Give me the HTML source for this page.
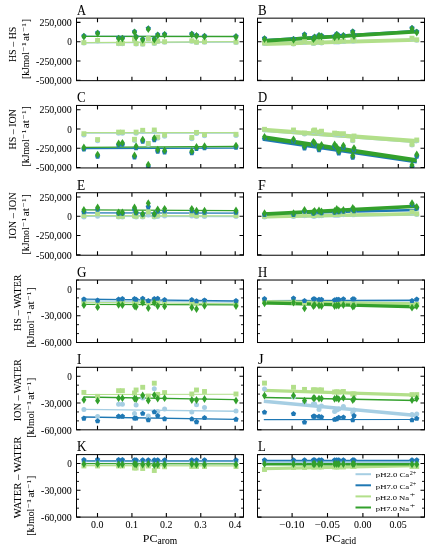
<!DOCTYPE html>
<html><head><meta charset="utf-8"><style>
html,body{margin:0;padding:0;background:#fff;}
text{stroke:#000;stroke-width:0.04px;fill:#000;}
svg{display:block;}
</style></head><body>
<svg width="431" height="550" viewBox="0 0 431 550">
<rect width="431" height="550" fill="#fff"/>
<clipPath id="cp00"><rect x="76.5" y="18.15" width="167" height="62.5"/></clipPath>
<g clip-path="url(#cp00)">
<line x1="83.9" y1="42.9" x2="236" y2="42" stroke="#a6cee3" stroke-width="1.3" stroke-linecap="butt"/>
<line x1="83.9" y1="36.4" x2="236" y2="36.5" stroke="#1f78b4" stroke-width="1.2" stroke-linecap="butt"/>
<line x1="83.9" y1="42.7" x2="236" y2="41.6" stroke="#b2df8a" stroke-width="1.3" stroke-linecap="butt"/>
<line x1="83.9" y1="36.4" x2="236" y2="36.5" stroke="#33a02c" stroke-width="1.3" stroke-linecap="butt"/>
<circle cx="83.9" cy="43.1" r="2.5" fill="#a6cee3"/>
<circle cx="97.6" cy="40.9" r="2.5" fill="#a6cee3"/>
<circle cx="118.6" cy="43.8" r="2.5" fill="#a6cee3"/>
<circle cx="122.4" cy="43.8" r="2.5" fill="#a6cee3"/>
<circle cx="134.5" cy="39.7" r="2.5" fill="#a6cee3"/>
<circle cx="136.1" cy="44.1" r="2.5" fill="#a6cee3"/>
<circle cx="142.7" cy="44.3" r="2.5" fill="#a6cee3"/>
<circle cx="148.3" cy="39.1" r="2.5" fill="#a6cee3"/>
<circle cx="154.3" cy="43.4" r="2.5" fill="#a6cee3"/>
<circle cx="157.7" cy="41.6" r="2.5" fill="#a6cee3"/>
<circle cx="164.6" cy="42.2" r="2.5" fill="#a6cee3"/>
<circle cx="191.8" cy="41.3" r="2.5" fill="#a6cee3"/>
<circle cx="196.5" cy="42.6" r="2.5" fill="#a6cee3"/>
<circle cx="204.5" cy="42.2" r="2.5" fill="#a6cee3"/>
<circle cx="236" cy="42.5" r="2.5" fill="#a6cee3"/>
<rect x="81.45" y="40.15" width="4.9" height="4.9" fill="#b2df8a"/>
<rect x="95.15" y="37.95" width="4.9" height="4.9" fill="#b2df8a"/>
<rect x="116.15" y="40.85" width="4.9" height="4.9" fill="#b2df8a"/>
<rect x="119.95" y="40.85" width="4.9" height="4.9" fill="#b2df8a"/>
<rect x="132.05" y="36.75" width="4.9" height="4.9" fill="#b2df8a"/>
<rect x="133.65" y="41.15" width="4.9" height="4.9" fill="#b2df8a"/>
<rect x="140.25" y="41.35" width="4.9" height="4.9" fill="#b2df8a"/>
<rect x="145.85" y="36.15" width="4.9" height="4.9" fill="#b2df8a"/>
<rect x="151.85" y="40.45" width="4.9" height="4.9" fill="#b2df8a"/>
<rect x="155.25" y="38.65" width="4.9" height="4.9" fill="#b2df8a"/>
<rect x="162.15" y="39.25" width="4.9" height="4.9" fill="#b2df8a"/>
<rect x="189.35" y="38.35" width="4.9" height="4.9" fill="#b2df8a"/>
<rect x="194.05" y="39.65" width="4.9" height="4.9" fill="#b2df8a"/>
<rect x="202.05" y="39.25" width="4.9" height="4.9" fill="#b2df8a"/>
<rect x="233.55" y="39.55" width="4.9" height="4.9" fill="#b2df8a"/>
<polygon points="83.9,33.1 86.56,35.03 85.55,38.17 82.25,38.17 81.24,35.03" fill="#1f78b4"/>
<polygon points="97.6,29.9 100.26,31.83 99.25,34.97 95.95,34.97 94.94,31.83" fill="#1f78b4"/>
<polygon points="118.6,35 121.26,36.93 120.25,40.07 116.95,40.07 115.94,36.93" fill="#1f78b4"/>
<polygon points="122.4,35 125.06,36.93 124.05,40.07 120.75,40.07 119.74,36.93" fill="#1f78b4"/>
<polygon points="134.5,28.7 137.16,30.63 136.15,33.77 132.85,33.77 131.84,30.63" fill="#1f78b4"/>
<polygon points="136.1,33.7 138.76,35.63 137.75,38.77 134.45,38.77 133.44,35.63" fill="#1f78b4"/>
<polygon points="142.7,36.2 145.36,38.13 144.35,41.27 141.05,41.27 140.04,38.13" fill="#1f78b4"/>
<polygon points="148.3,25.6 150.96,27.53 149.95,30.67 146.65,30.67 145.64,27.53" fill="#1f78b4"/>
<polygon points="154.3,36 156.96,37.93 155.95,41.07 152.65,41.07 151.64,37.93" fill="#1f78b4"/>
<polygon points="157.7,31.8 160.36,33.73 159.35,36.87 156.05,36.87 155.04,33.73" fill="#1f78b4"/>
<polygon points="164.6,31.2 167.26,33.13 166.25,36.27 162.95,36.27 161.94,33.13" fill="#1f78b4"/>
<polygon points="191.8,30.9 194.46,32.83 193.45,35.97 190.15,35.97 189.14,32.83" fill="#1f78b4"/>
<polygon points="196.5,32.4 199.16,34.33 198.15,37.47 194.85,37.47 193.84,34.33" fill="#1f78b4"/>
<polygon points="204.5,33.1 207.16,35.03 206.15,38.17 202.85,38.17 201.84,35.03" fill="#1f78b4"/>
<polygon points="236,33.4 238.66,35.33 237.65,38.47 234.35,38.47 233.34,35.33" fill="#1f78b4"/>
<polygon points="83.9,32.8 86.4,36.7 83.9,40.6 81.4,36.7" fill="#33a02c"/>
<polygon points="97.6,29.6 100.1,33.5 97.6,37.4 95.1,33.5" fill="#33a02c"/>
<polygon points="118.6,34.7 121.1,38.6 118.6,42.5 116.1,38.6" fill="#33a02c"/>
<polygon points="122.4,34.7 124.9,38.6 122.4,42.5 119.9,38.6" fill="#33a02c"/>
<polygon points="134.5,28.4 137,32.3 134.5,36.2 132,32.3" fill="#33a02c"/>
<polygon points="136.1,33.4 138.6,37.3 136.1,41.2 133.6,37.3" fill="#33a02c"/>
<polygon points="142.7,35.9 145.2,39.8 142.7,43.7 140.2,39.8" fill="#33a02c"/>
<polygon points="148.3,25.3 150.8,29.2 148.3,33.1 145.8,29.2" fill="#33a02c"/>
<polygon points="154.3,35.7 156.8,39.6 154.3,43.5 151.8,39.6" fill="#33a02c"/>
<polygon points="157.7,31.5 160.2,35.4 157.7,39.3 155.2,35.4" fill="#33a02c"/>
<polygon points="164.6,30.9 167.1,34.8 164.6,38.7 162.1,34.8" fill="#33a02c"/>
<polygon points="191.8,30.6 194.3,34.5 191.8,38.4 189.3,34.5" fill="#33a02c"/>
<polygon points="196.5,32.1 199,36 196.5,39.9 194,36" fill="#33a02c"/>
<polygon points="204.5,32.8 207,36.7 204.5,40.6 202,36.7" fill="#33a02c"/>
<polygon points="236,33.1 238.5,37 236,40.9 233.5,37" fill="#33a02c"/>
</g>
<path d="M97.5 80.65v-4M97.5 18.15v4M131.93 80.65v-4M131.93 18.15v4M166.35 80.65v-4M166.35 18.15v4M200.77 80.65v-4M200.77 18.15v4M235.2 80.65v-4M235.2 18.15v4M76.5 22.39h4M243.5 22.39h-4M76.5 41.68h4M243.5 41.68h-4M76.5 60.97h4M243.5 60.97h-4M76.5 80.26h4M243.5 80.26h-4" stroke="#000" stroke-width="1.1" fill="none"/>
<rect x="76.5" y="18.15" width="167" height="62.5" fill="none" stroke="#000" stroke-width="1.0"/>
<text x="76.9" y="14.95" font-size="14.8" font-family="'Liberation Serif', 'DejaVu Serif', serif" style="stroke-width:0.05px" textLength="9.0" lengthAdjust="spacingAndGlyphs">A</text>
<text x="39.42" y="26.09" font-size="9.8" font-family="'Liberation Serif', 'DejaVu Serif', serif" textLength="32.38" lengthAdjust="spacingAndGlyphs">250,000</text>
<text x="67.2" y="45.38" font-size="9.8" font-family="'Liberation Serif', 'DejaVu Serif', serif" textLength="4.6" lengthAdjust="spacingAndGlyphs">0</text>
<text x="36.09" y="64.67" font-size="9.8" font-family="'Liberation Serif', 'DejaVu Serif', serif" textLength="35.71" lengthAdjust="spacingAndGlyphs">-250,000</text>
<text x="36.09" y="83.96" font-size="9.8" font-family="'Liberation Serif', 'DejaVu Serif', serif" textLength="35.71" lengthAdjust="spacingAndGlyphs">-500,000</text>
<clipPath id="cp01"><rect x="257.5" y="18.15" width="167" height="62.5"/></clipPath>
<g clip-path="url(#cp01)">
<line x1="263.8" y1="44" x2="416.75" y2="39.6" stroke="#a6cee3" stroke-width="2.5" stroke-linecap="butt"/>
<line x1="263.8" y1="40.5" x2="416.75" y2="31.2" stroke="#1f78b4" stroke-width="2.8" stroke-linecap="butt"/>
<line x1="263.8" y1="44" x2="416.75" y2="39.8" stroke="#b2df8a" stroke-width="3.8" stroke-linecap="butt"/>
<line x1="263.8" y1="40.8" x2="416.75" y2="31.6" stroke="#33a02c" stroke-width="3.8" stroke-linecap="butt"/>
<circle cx="264.5" cy="43.5" r="2.5" fill="#a6cee3"/>
<circle cx="293.5" cy="44.1" r="2.5" fill="#a6cee3"/>
<circle cx="304.5" cy="42.2" r="2.5" fill="#a6cee3"/>
<circle cx="313.4" cy="43.5" r="2.5" fill="#a6cee3"/>
<circle cx="314.6" cy="43" r="2.5" fill="#a6cee3"/>
<circle cx="319" cy="42.5" r="2.5" fill="#a6cee3"/>
<circle cx="321.5" cy="43" r="2.5" fill="#a6cee3"/>
<circle cx="334.6" cy="42" r="2.5" fill="#a6cee3"/>
<circle cx="336.75" cy="42" r="2.5" fill="#a6cee3"/>
<circle cx="338.75" cy="42" r="2.5" fill="#a6cee3"/>
<circle cx="343.4" cy="41.5" r="2.5" fill="#a6cee3"/>
<circle cx="352.75" cy="41" r="2.5" fill="#a6cee3"/>
<circle cx="354" cy="41" r="2.5" fill="#a6cee3"/>
<circle cx="412" cy="38.7" r="2.5" fill="#a6cee3"/>
<circle cx="416.75" cy="40.3" r="2.5" fill="#a6cee3"/>
<rect x="262.05" y="40.55" width="4.9" height="4.9" fill="#b2df8a"/>
<rect x="291.05" y="41.15" width="4.9" height="4.9" fill="#b2df8a"/>
<rect x="302.05" y="39.25" width="4.9" height="4.9" fill="#b2df8a"/>
<rect x="310.95" y="40.55" width="4.9" height="4.9" fill="#b2df8a"/>
<rect x="312.15" y="40.05" width="4.9" height="4.9" fill="#b2df8a"/>
<rect x="316.55" y="39.55" width="4.9" height="4.9" fill="#b2df8a"/>
<rect x="319.05" y="40.05" width="4.9" height="4.9" fill="#b2df8a"/>
<rect x="332.15" y="39.05" width="4.9" height="4.9" fill="#b2df8a"/>
<rect x="334.3" y="39.05" width="4.9" height="4.9" fill="#b2df8a"/>
<rect x="336.3" y="39.05" width="4.9" height="4.9" fill="#b2df8a"/>
<rect x="340.95" y="38.55" width="4.9" height="4.9" fill="#b2df8a"/>
<rect x="350.3" y="38.05" width="4.9" height="4.9" fill="#b2df8a"/>
<rect x="351.55" y="38.05" width="4.9" height="4.9" fill="#b2df8a"/>
<rect x="409.55" y="35.75" width="4.9" height="4.9" fill="#b2df8a"/>
<rect x="414.3" y="37.35" width="4.9" height="4.9" fill="#b2df8a"/>
<polygon points="264.5,35.4 267.16,37.33 266.15,40.47 262.85,40.47 261.84,37.33" fill="#1f78b4"/>
<polygon points="293.5,36 296.16,37.93 295.15,41.07 291.85,41.07 290.84,37.93" fill="#1f78b4"/>
<polygon points="304.5,31.6 307.16,33.53 306.15,36.67 302.85,36.67 301.84,33.53" fill="#1f78b4"/>
<polygon points="313.4,35.4 316.06,37.33 315.05,40.47 311.75,40.47 310.74,37.33" fill="#1f78b4"/>
<polygon points="314.6,33.7 317.26,35.63 316.25,38.77 312.95,38.77 311.94,35.63" fill="#1f78b4"/>
<polygon points="319,32.2 321.66,34.13 320.65,37.27 317.35,37.27 316.34,34.13" fill="#1f78b4"/>
<polygon points="321.5,32.7 324.16,34.63 323.15,37.77 319.85,37.77 318.84,34.63" fill="#1f78b4"/>
<polygon points="334.6,33.5 337.26,35.43 336.25,38.57 332.95,38.57 331.94,35.43" fill="#1f78b4"/>
<polygon points="336.75,31 339.41,32.93 338.4,36.07 335.1,36.07 334.09,32.93" fill="#1f78b4"/>
<polygon points="338.75,32.7 341.41,34.63 340.4,37.77 337.1,37.77 336.09,34.63" fill="#1f78b4"/>
<polygon points="343.4,32.2 346.06,34.13 345.05,37.27 341.75,37.27 340.74,34.13" fill="#1f78b4"/>
<polygon points="352.75,28.5 355.41,30.43 354.4,33.57 351.1,33.57 350.09,30.43" fill="#1f78b4"/>
<polygon points="354,32.2 356.66,34.13 355.65,37.27 352.35,37.27 351.34,34.13" fill="#1f78b4"/>
<polygon points="412,25 414.66,26.93 413.65,30.07 410.35,30.07 409.34,26.93" fill="#1f78b4"/>
<polygon points="416.75,28.8 419.41,30.73 418.4,33.87 415.1,33.87 414.09,30.73" fill="#1f78b4"/>
<polygon points="264.5,35.3 267,39.2 264.5,43.1 262,39.2" fill="#33a02c"/>
<polygon points="293.5,35.9 296,39.8 293.5,43.7 291,39.8" fill="#33a02c"/>
<polygon points="304.5,31.5 307,35.4 304.5,39.3 302,35.4" fill="#33a02c"/>
<polygon points="313.4,35.3 315.9,39.2 313.4,43.1 310.9,39.2" fill="#33a02c"/>
<polygon points="314.6,33.6 317.1,37.5 314.6,41.4 312.1,37.5" fill="#33a02c"/>
<polygon points="319,32.1 321.5,36 319,39.9 316.5,36" fill="#33a02c"/>
<polygon points="321.5,32.6 324,36.5 321.5,40.4 319,36.5" fill="#33a02c"/>
<polygon points="334.6,33.4 337.1,37.3 334.6,41.2 332.1,37.3" fill="#33a02c"/>
<polygon points="336.75,30.9 339.25,34.8 336.75,38.7 334.25,34.8" fill="#33a02c"/>
<polygon points="338.75,32.6 341.25,36.5 338.75,40.4 336.25,36.5" fill="#33a02c"/>
<polygon points="343.4,32.1 345.9,36 343.4,39.9 340.9,36" fill="#33a02c"/>
<polygon points="352.75,28.4 355.25,32.3 352.75,36.2 350.25,32.3" fill="#33a02c"/>
<polygon points="354,32.1 356.5,36 354,39.9 351.5,36" fill="#33a02c"/>
<polygon points="412,24.9 414.5,28.8 412,32.7 409.5,28.8" fill="#33a02c"/>
<polygon points="416.75,28.7 419.25,32.6 416.75,36.5 414.25,32.6" fill="#33a02c"/>
</g>
<path d="M292.1 80.65v-4M292.1 18.15v4M327.5 80.65v-4M327.5 18.15v4M362.9 80.65v-4M362.9 18.15v4M398.3 80.65v-4M398.3 18.15v4M257.5 22.39h4M424.5 22.39h-4M257.5 41.68h4M424.5 41.68h-4M257.5 60.97h4M424.5 60.97h-4M257.5 80.26h4M424.5 80.26h-4" stroke="#000" stroke-width="1.1" fill="none"/>
<rect x="257.5" y="18.15" width="167" height="62.5" fill="none" stroke="#000" stroke-width="1.0"/>
<text x="258.1" y="14.95" font-size="14.8" font-family="'Liberation Serif', 'DejaVu Serif', serif" style="stroke-width:0.05px" textLength="8.6" lengthAdjust="spacingAndGlyphs">B</text>
<clipPath id="cp10"><rect x="76.5" y="105.44" width="167" height="62.5"/></clipPath>
<g clip-path="url(#cp10)">
<line x1="83.9" y1="133.2" x2="236" y2="133.2" stroke="#a6cee3" stroke-width="1.3" stroke-linecap="butt"/>
<line x1="83.9" y1="148.5" x2="236" y2="148.2" stroke="#1f78b4" stroke-width="1.3" stroke-linecap="butt"/>
<line x1="83.9" y1="132.7" x2="236" y2="132.7" stroke="#b2df8a" stroke-width="1.3" stroke-linecap="butt"/>
<line x1="83.9" y1="147.4" x2="236" y2="146.5" stroke="#33a02c" stroke-width="1.3" stroke-linecap="butt"/>
<circle cx="83.9" cy="134.9" r="2.5" fill="#a6cee3"/>
<circle cx="97.6" cy="140.8" r="2.5" fill="#a6cee3"/>
<circle cx="118.6" cy="133.3" r="2.5" fill="#a6cee3"/>
<circle cx="122.4" cy="133.3" r="2.5" fill="#a6cee3"/>
<circle cx="134.5" cy="140.5" r="2.5" fill="#a6cee3"/>
<circle cx="136.1" cy="133.3" r="2.5" fill="#a6cee3"/>
<circle cx="142.7" cy="131.5" r="2.5" fill="#a6cee3"/>
<circle cx="148.3" cy="144.6" r="2.5" fill="#a6cee3"/>
<circle cx="154.3" cy="131.2" r="2.5" fill="#a6cee3"/>
<circle cx="157.7" cy="138.3" r="2.5" fill="#a6cee3"/>
<circle cx="164.6" cy="136.2" r="2.5" fill="#a6cee3"/>
<circle cx="191.8" cy="138.7" r="2.5" fill="#a6cee3"/>
<circle cx="196.5" cy="133.6" r="2.5" fill="#a6cee3"/>
<circle cx="204.5" cy="135.8" r="2.5" fill="#a6cee3"/>
<circle cx="236" cy="135.5" r="2.5" fill="#a6cee3"/>
<rect x="81.45" y="131.25" width="4.9" height="4.9" fill="#b2df8a"/>
<rect x="95.15" y="137.15" width="4.9" height="4.9" fill="#b2df8a"/>
<rect x="116.15" y="129.65" width="4.9" height="4.9" fill="#b2df8a"/>
<rect x="119.95" y="129.65" width="4.9" height="4.9" fill="#b2df8a"/>
<rect x="132.05" y="136.85" width="4.9" height="4.9" fill="#b2df8a"/>
<rect x="133.65" y="129.65" width="4.9" height="4.9" fill="#b2df8a"/>
<rect x="140.25" y="127.85" width="4.9" height="4.9" fill="#b2df8a"/>
<rect x="145.85" y="140.95" width="4.9" height="4.9" fill="#b2df8a"/>
<rect x="151.85" y="127.55" width="4.9" height="4.9" fill="#b2df8a"/>
<rect x="155.25" y="134.65" width="4.9" height="4.9" fill="#b2df8a"/>
<rect x="162.15" y="132.55" width="4.9" height="4.9" fill="#b2df8a"/>
<rect x="189.35" y="135.05" width="4.9" height="4.9" fill="#b2df8a"/>
<rect x="194.05" y="129.95" width="4.9" height="4.9" fill="#b2df8a"/>
<rect x="202.05" y="132.15" width="4.9" height="4.9" fill="#b2df8a"/>
<rect x="233.55" y="131.85" width="4.9" height="4.9" fill="#b2df8a"/>
<polygon points="83.9,146.5 86.56,148.43 85.55,151.57 82.25,151.57 81.24,148.43" fill="#1f78b4"/>
<polygon points="97.6,153.6 100.26,155.53 99.25,158.67 95.95,158.67 94.94,155.53" fill="#1f78b4"/>
<polygon points="118.6,142.4 121.26,144.33 120.25,147.47 116.95,147.47 115.94,144.33" fill="#1f78b4"/>
<polygon points="122.4,141.8 125.06,143.73 124.05,146.87 120.75,146.87 119.74,143.73" fill="#1f78b4"/>
<polygon points="134.5,154.4 137.16,156.33 136.15,159.47 132.85,159.47 131.84,156.33" fill="#1f78b4"/>
<polygon points="136.1,145.2 138.76,147.13 137.75,150.27 134.45,150.27 133.44,147.13" fill="#1f78b4"/>
<polygon points="142.7,138.6 145.36,140.53 144.35,143.67 141.05,143.67 140.04,140.53" fill="#1f78b4"/>
<polygon points="148.3,163.7 150.96,165.63 149.95,168.77 146.65,168.77 145.64,165.63" fill="#1f78b4"/>
<polygon points="154.3,137.1 156.96,139.03 155.95,142.17 152.65,142.17 151.64,139.03" fill="#1f78b4"/>
<polygon points="157.7,148.6 160.36,150.53 159.35,153.67 156.05,153.67 155.04,150.53" fill="#1f78b4"/>
<polygon points="164.6,149.4 167.26,151.33 166.25,154.47 162.95,154.47 161.94,151.33" fill="#1f78b4"/>
<polygon points="191.8,150.2 194.46,152.13 193.45,155.27 190.15,155.27 189.14,152.13" fill="#1f78b4"/>
<polygon points="196.5,145.9 199.16,147.83 198.15,150.97 194.85,150.97 193.84,147.83" fill="#1f78b4"/>
<polygon points="204.5,145.2 207.16,147.13 206.15,150.27 202.85,150.27 201.84,147.13" fill="#1f78b4"/>
<polygon points="236,144.6 238.66,146.53 237.65,149.67 234.35,149.67 233.34,146.53" fill="#1f78b4"/>
<polygon points="83.9,143.6 86.4,147.5 83.9,151.4 81.4,147.5" fill="#33a02c"/>
<polygon points="97.6,150.7 100.1,154.6 97.6,158.5 95.1,154.6" fill="#33a02c"/>
<polygon points="118.6,139.5 121.1,143.4 118.6,147.3 116.1,143.4" fill="#33a02c"/>
<polygon points="122.4,138.9 124.9,142.8 122.4,146.7 119.9,142.8" fill="#33a02c"/>
<polygon points="134.5,151.5 137,155.4 134.5,159.3 132,155.4" fill="#33a02c"/>
<polygon points="136.1,142.3 138.6,146.2 136.1,150.1 133.6,146.2" fill="#33a02c"/>
<polygon points="142.7,135.7 145.2,139.6 142.7,143.5 140.2,139.6" fill="#33a02c"/>
<polygon points="148.3,160.8 150.8,164.7 148.3,168.6 145.8,164.7" fill="#33a02c"/>
<polygon points="154.3,134.2 156.8,138.1 154.3,142 151.8,138.1" fill="#33a02c"/>
<polygon points="157.7,145.7 160.2,149.6 157.7,153.5 155.2,149.6" fill="#33a02c"/>
<polygon points="164.6,146.5 167.1,150.4 164.6,154.3 162.1,150.4" fill="#33a02c"/>
<polygon points="191.8,147.3 194.3,151.2 191.8,155.1 189.3,151.2" fill="#33a02c"/>
<polygon points="196.5,143 199,146.9 196.5,150.8 194,146.9" fill="#33a02c"/>
<polygon points="204.5,142.3 207,146.2 204.5,150.1 202,146.2" fill="#33a02c"/>
<polygon points="236,141.7 238.5,145.6 236,149.5 233.5,145.6" fill="#33a02c"/>
</g>
<path d="M97.5 167.94v-4M97.5 105.44v4M131.93 167.94v-4M131.93 105.44v4M166.35 167.94v-4M166.35 105.44v4M200.77 167.94v-4M200.77 105.44v4M235.2 167.94v-4M235.2 105.44v4M76.5 109.68h4M243.5 109.68h-4M76.5 128.97h4M243.5 128.97h-4M76.5 148.26h4M243.5 148.26h-4M76.5 167.55h4M243.5 167.55h-4" stroke="#000" stroke-width="1.1" fill="none"/>
<rect x="76.5" y="105.44" width="167" height="62.5" fill="none" stroke="#000" stroke-width="1.0"/>
<text x="76.9" y="102.24" font-size="14.8" font-family="'Liberation Serif', 'DejaVu Serif', serif" style="stroke-width:0.05px" textLength="8.6" lengthAdjust="spacingAndGlyphs">C</text>
<text x="39.42" y="113.38" font-size="9.8" font-family="'Liberation Serif', 'DejaVu Serif', serif" textLength="32.38" lengthAdjust="spacingAndGlyphs">250,000</text>
<text x="67.2" y="132.67" font-size="9.8" font-family="'Liberation Serif', 'DejaVu Serif', serif" textLength="4.6" lengthAdjust="spacingAndGlyphs">0</text>
<text x="36.09" y="151.96" font-size="9.8" font-family="'Liberation Serif', 'DejaVu Serif', serif" textLength="35.71" lengthAdjust="spacingAndGlyphs">-250,000</text>
<text x="36.09" y="171.25" font-size="9.8" font-family="'Liberation Serif', 'DejaVu Serif', serif" textLength="35.71" lengthAdjust="spacingAndGlyphs">-500,000</text>
<clipPath id="cp11"><rect x="257.5" y="105.44" width="167" height="62.5"/></clipPath>
<g clip-path="url(#cp11)">
<line x1="263.8" y1="130.4" x2="416.75" y2="141.6" stroke="#a6cee3" stroke-width="3.4" stroke-linecap="butt"/>
<line x1="263.8" y1="139.6" x2="416.75" y2="162.2" stroke="#1f78b4" stroke-width="2.8" stroke-linecap="butt"/>
<line x1="263.8" y1="129.9" x2="416.75" y2="141.1" stroke="#b2df8a" stroke-width="4.2" stroke-linecap="butt"/>
<line x1="263.8" y1="137.3" x2="416.75" y2="160.3" stroke="#33a02c" stroke-width="4.2" stroke-linecap="butt"/>
<circle cx="264.5" cy="130.1" r="2.5" fill="#a6cee3"/>
<circle cx="293.5" cy="130.8" r="2.5" fill="#a6cee3"/>
<circle cx="304.5" cy="133.9" r="2.5" fill="#a6cee3"/>
<circle cx="313.4" cy="131.6" r="2.5" fill="#a6cee3"/>
<circle cx="314.6" cy="130.8" r="2.5" fill="#a6cee3"/>
<circle cx="319" cy="132.9" r="2.5" fill="#a6cee3"/>
<circle cx="321.5" cy="132" r="2.5" fill="#a6cee3"/>
<circle cx="334.6" cy="133.9" r="2.5" fill="#a6cee3"/>
<circle cx="336.75" cy="134.3" r="2.5" fill="#a6cee3"/>
<circle cx="338.75" cy="134.5" r="2.5" fill="#a6cee3"/>
<circle cx="343.4" cy="134.5" r="2.5" fill="#a6cee3"/>
<circle cx="352.75" cy="140.8" r="2.5" fill="#a6cee3"/>
<circle cx="354" cy="136.8" r="2.5" fill="#a6cee3"/>
<circle cx="412" cy="145.1" r="2.5" fill="#a6cee3"/>
<circle cx="416.75" cy="140.8" r="2.5" fill="#a6cee3"/>
<rect x="262.05" y="126.85" width="4.9" height="4.9" fill="#b2df8a"/>
<rect x="291.05" y="127.55" width="4.9" height="4.9" fill="#b2df8a"/>
<rect x="302.05" y="130.65" width="4.9" height="4.9" fill="#b2df8a"/>
<rect x="310.95" y="128.35" width="4.9" height="4.9" fill="#b2df8a"/>
<rect x="312.15" y="127.55" width="4.9" height="4.9" fill="#b2df8a"/>
<rect x="316.55" y="129.65" width="4.9" height="4.9" fill="#b2df8a"/>
<rect x="319.05" y="128.75" width="4.9" height="4.9" fill="#b2df8a"/>
<rect x="332.15" y="130.65" width="4.9" height="4.9" fill="#b2df8a"/>
<rect x="334.3" y="131.05" width="4.9" height="4.9" fill="#b2df8a"/>
<rect x="336.3" y="131.25" width="4.9" height="4.9" fill="#b2df8a"/>
<rect x="340.95" y="131.25" width="4.9" height="4.9" fill="#b2df8a"/>
<rect x="350.3" y="137.55" width="4.9" height="4.9" fill="#b2df8a"/>
<rect x="351.55" y="133.55" width="4.9" height="4.9" fill="#b2df8a"/>
<rect x="409.55" y="141.85" width="4.9" height="4.9" fill="#b2df8a"/>
<rect x="414.3" y="137.55" width="4.9" height="4.9" fill="#b2df8a"/>
<polygon points="264.5,136 267.16,137.93 266.15,141.07 262.85,141.07 261.84,137.93" fill="#1f78b4"/>
<polygon points="293.5,138.5 296.16,140.43 295.15,143.57 291.85,143.57 290.84,140.43" fill="#1f78b4"/>
<polygon points="304.5,145.4 307.16,147.33 306.15,150.47 302.85,150.47 301.84,147.33" fill="#1f78b4"/>
<polygon points="313.4,141 316.06,142.93 315.05,146.07 311.75,146.07 310.74,142.93" fill="#1f78b4"/>
<polygon points="314.6,142.2 317.26,144.13 316.25,147.27 312.95,147.27 311.94,144.13" fill="#1f78b4"/>
<polygon points="319,147.3 321.66,149.23 320.65,152.37 317.35,152.37 316.34,149.23" fill="#1f78b4"/>
<polygon points="321.5,144.2 324.16,146.13 323.15,149.27 319.85,149.27 318.84,146.13" fill="#1f78b4"/>
<polygon points="334.6,143.6 337.26,145.53 336.25,148.67 332.95,148.67 331.94,145.53" fill="#1f78b4"/>
<polygon points="336.75,146.2 339.41,148.13 338.4,151.27 335.1,151.27 334.09,148.13" fill="#1f78b4"/>
<polygon points="338.75,150.4 341.41,152.33 340.4,155.47 337.1,155.47 336.09,152.33" fill="#1f78b4"/>
<polygon points="343.4,144.8 346.06,146.73 345.05,149.87 341.75,149.87 340.74,146.73" fill="#1f78b4"/>
<polygon points="352.75,154.8 355.41,156.73 354.4,159.87 351.1,159.87 350.09,156.73" fill="#1f78b4"/>
<polygon points="354,147.3 356.66,149.23 355.65,152.37 352.35,152.37 351.34,149.23" fill="#1f78b4"/>
<polygon points="412,164.2 414.66,166.13 413.65,169.27 410.35,169.27 409.34,166.13" fill="#1f78b4"/>
<polygon points="416.75,153.6 419.41,155.53 418.4,158.67 415.1,158.67 414.09,155.53" fill="#1f78b4"/>
<polygon points="264.5,132.9 267,136.8 264.5,140.7 262,136.8" fill="#33a02c"/>
<polygon points="293.5,135.4 296,139.3 293.5,143.2 291,139.3" fill="#33a02c"/>
<polygon points="304.5,142.3 307,146.2 304.5,150.1 302,146.2" fill="#33a02c"/>
<polygon points="313.4,137.9 315.9,141.8 313.4,145.7 310.9,141.8" fill="#33a02c"/>
<polygon points="314.6,139.1 317.1,143 314.6,146.9 312.1,143" fill="#33a02c"/>
<polygon points="319,144.2 321.5,148.1 319,152 316.5,148.1" fill="#33a02c"/>
<polygon points="321.5,141.1 324,145 321.5,148.9 319,145" fill="#33a02c"/>
<polygon points="334.6,140.5 337.1,144.4 334.6,148.3 332.1,144.4" fill="#33a02c"/>
<polygon points="336.75,143.1 339.25,147 336.75,150.9 334.25,147" fill="#33a02c"/>
<polygon points="338.75,147.3 341.25,151.2 338.75,155.1 336.25,151.2" fill="#33a02c"/>
<polygon points="343.4,141.7 345.9,145.6 343.4,149.5 340.9,145.6" fill="#33a02c"/>
<polygon points="352.75,151.7 355.25,155.6 352.75,159.5 350.25,155.6" fill="#33a02c"/>
<polygon points="354,144.2 356.5,148.1 354,152 351.5,148.1" fill="#33a02c"/>
<polygon points="412,161.1 414.5,165 412,168.9 409.5,165" fill="#33a02c"/>
<polygon points="416.75,150.5 419.25,154.4 416.75,158.3 414.25,154.4" fill="#33a02c"/>
</g>
<path d="M292.1 167.94v-4M292.1 105.44v4M327.5 167.94v-4M327.5 105.44v4M362.9 167.94v-4M362.9 105.44v4M398.3 167.94v-4M398.3 105.44v4M257.5 109.68h4M424.5 109.68h-4M257.5 128.97h4M424.5 128.97h-4M257.5 148.26h4M424.5 148.26h-4M257.5 167.55h4M424.5 167.55h-4" stroke="#000" stroke-width="1.1" fill="none"/>
<rect x="257.5" y="105.44" width="167" height="62.5" fill="none" stroke="#000" stroke-width="1.0"/>
<text x="258.1" y="102.24" font-size="14.8" font-family="'Liberation Serif', 'DejaVu Serif', serif" style="stroke-width:0.05px" textLength="9.2" lengthAdjust="spacingAndGlyphs">D</text>
<clipPath id="cp20"><rect x="76.5" y="192.73" width="167" height="62.5"/></clipPath>
<g clip-path="url(#cp20)">
<line x1="83.9" y1="216.3" x2="236" y2="216.5" stroke="#a6cee3" stroke-width="1.3" stroke-linecap="butt"/>
<line x1="83.9" y1="212.8" x2="236" y2="213.2" stroke="#1f78b4" stroke-width="1.3" stroke-linecap="butt"/>
<line x1="83.9" y1="215.7" x2="236" y2="215.9" stroke="#b2df8a" stroke-width="1.3" stroke-linecap="butt"/>
<line x1="83.9" y1="209.8" x2="236" y2="210.7" stroke="#33a02c" stroke-width="1.3" stroke-linecap="butt"/>
<circle cx="83.9" cy="217" r="2.5" fill="#a6cee3"/>
<circle cx="97.6" cy="216.3" r="2.5" fill="#a6cee3"/>
<circle cx="118.6" cy="217" r="2.5" fill="#a6cee3"/>
<circle cx="122.4" cy="217" r="2.5" fill="#a6cee3"/>
<circle cx="134.5" cy="216.5" r="2.5" fill="#a6cee3"/>
<circle cx="136.1" cy="217" r="2.5" fill="#a6cee3"/>
<circle cx="142.7" cy="217" r="2.5" fill="#a6cee3"/>
<circle cx="148.3" cy="215" r="2.5" fill="#a6cee3"/>
<circle cx="154.3" cy="217" r="2.5" fill="#a6cee3"/>
<circle cx="157.7" cy="216.5" r="2.5" fill="#a6cee3"/>
<circle cx="164.6" cy="216" r="2.5" fill="#a6cee3"/>
<circle cx="191.8" cy="216" r="2.5" fill="#a6cee3"/>
<circle cx="196.5" cy="216.5" r="2.5" fill="#a6cee3"/>
<circle cx="204.5" cy="216.5" r="2.5" fill="#a6cee3"/>
<circle cx="236" cy="216.5" r="2.5" fill="#a6cee3"/>
<rect x="81.45" y="213.25" width="4.9" height="4.9" fill="#b2df8a"/>
<rect x="95.15" y="211.35" width="4.9" height="4.9" fill="#b2df8a"/>
<rect x="116.15" y="213.85" width="4.9" height="4.9" fill="#b2df8a"/>
<rect x="119.95" y="213.85" width="4.9" height="4.9" fill="#b2df8a"/>
<rect x="132.05" y="213.25" width="4.9" height="4.9" fill="#b2df8a"/>
<rect x="133.65" y="213.85" width="4.9" height="4.9" fill="#b2df8a"/>
<rect x="140.25" y="213.85" width="4.9" height="4.9" fill="#b2df8a"/>
<rect x="145.85" y="209.45" width="4.9" height="4.9" fill="#b2df8a"/>
<rect x="151.85" y="213.85" width="4.9" height="4.9" fill="#b2df8a"/>
<rect x="155.25" y="212.55" width="4.9" height="4.9" fill="#b2df8a"/>
<rect x="162.15" y="211.95" width="4.9" height="4.9" fill="#b2df8a"/>
<rect x="189.35" y="211.95" width="4.9" height="4.9" fill="#b2df8a"/>
<rect x="194.05" y="213.25" width="4.9" height="4.9" fill="#b2df8a"/>
<rect x="202.05" y="212.55" width="4.9" height="4.9" fill="#b2df8a"/>
<rect x="233.55" y="213.05" width="4.9" height="4.9" fill="#b2df8a"/>
<polygon points="83.9,209.2 86.56,211.13 85.55,214.27 82.25,214.27 81.24,211.13" fill="#1f78b4"/>
<polygon points="97.6,206.7 100.26,208.63 99.25,211.77 95.95,211.77 94.94,208.63" fill="#1f78b4"/>
<polygon points="118.6,210.7 121.26,212.63 120.25,215.77 116.95,215.77 115.94,212.63" fill="#1f78b4"/>
<polygon points="122.4,210.7 125.06,212.63 124.05,215.77 120.75,215.77 119.74,212.63" fill="#1f78b4"/>
<polygon points="134.5,206.7 137.16,208.63 136.15,211.77 132.85,211.77 131.84,208.63" fill="#1f78b4"/>
<polygon points="136.1,210.2 138.76,212.13 137.75,215.27 134.45,215.27 133.44,212.13" fill="#1f78b4"/>
<polygon points="142.7,211.7 145.36,213.63 144.35,216.77 141.05,216.77 140.04,213.63" fill="#1f78b4"/>
<polygon points="148.3,204.1 150.96,206.03 149.95,209.17 146.65,209.17 145.64,206.03" fill="#1f78b4"/>
<polygon points="154.3,211.7 156.96,213.63 155.95,216.77 152.65,216.77 151.64,213.63" fill="#1f78b4"/>
<polygon points="157.7,208.7 160.36,210.63 159.35,213.77 156.05,213.77 155.04,210.63" fill="#1f78b4"/>
<polygon points="164.6,208.5 167.26,210.43 166.25,213.57 162.95,213.57 161.94,210.43" fill="#1f78b4"/>
<polygon points="191.8,208.2 194.46,210.13 193.45,213.27 190.15,213.27 189.14,210.13" fill="#1f78b4"/>
<polygon points="196.5,209.7 199.16,211.63 198.15,214.77 194.85,214.77 193.84,211.63" fill="#1f78b4"/>
<polygon points="204.5,209.7 207.16,211.63 206.15,214.77 202.85,214.77 201.84,211.63" fill="#1f78b4"/>
<polygon points="236,209.7 238.66,211.63 237.65,214.77 234.35,214.77 233.34,211.63" fill="#1f78b4"/>
<polygon points="83.9,206.1 86.4,210 83.9,213.9 81.4,210" fill="#33a02c"/>
<polygon points="97.6,203.6 100.1,207.5 97.6,211.4 95.1,207.5" fill="#33a02c"/>
<polygon points="118.6,208.4 121.1,212.3 118.6,216.2 116.1,212.3" fill="#33a02c"/>
<polygon points="122.4,208.4 124.9,212.3 122.4,216.2 119.9,212.3" fill="#33a02c"/>
<polygon points="134.5,203.6 137,207.5 134.5,211.4 132,207.5" fill="#33a02c"/>
<polygon points="136.1,208 138.6,211.9 136.1,215.8 133.6,211.9" fill="#33a02c"/>
<polygon points="142.7,209.9 145.2,213.8 142.7,217.7 140.2,213.8" fill="#33a02c"/>
<polygon points="148.3,199.3 150.8,203.2 148.3,207.1 145.8,203.2" fill="#33a02c"/>
<polygon points="154.3,209.9 156.8,213.8 154.3,217.7 151.8,213.8" fill="#33a02c"/>
<polygon points="157.7,205.5 160.2,209.4 157.7,213.3 155.2,209.4" fill="#33a02c"/>
<polygon points="164.6,204.9 167.1,208.8 164.6,212.7 162.1,208.8" fill="#33a02c"/>
<polygon points="191.8,204.9 194.3,208.8 191.8,212.7 189.3,208.8" fill="#33a02c"/>
<polygon points="196.5,206.8 199,210.7 196.5,214.6 194,210.7" fill="#33a02c"/>
<polygon points="204.5,206.8 207,210.7 204.5,214.6 202,210.7" fill="#33a02c"/>
<polygon points="236,206.6 238.5,210.5 236,214.4 233.5,210.5" fill="#33a02c"/>
</g>
<path d="M97.5 255.23v-4M97.5 192.73v4M131.93 255.23v-4M131.93 192.73v4M166.35 255.23v-4M166.35 192.73v4M200.77 255.23v-4M200.77 192.73v4M235.2 255.23v-4M235.2 192.73v4M76.5 196.97h4M243.5 196.97h-4M76.5 216.26h4M243.5 216.26h-4M76.5 235.55h4M243.5 235.55h-4M76.5 254.84h4M243.5 254.84h-4" stroke="#000" stroke-width="1.1" fill="none"/>
<rect x="76.5" y="192.73" width="167" height="62.5" fill="none" stroke="#000" stroke-width="1.0"/>
<text x="76.9" y="189.53" font-size="14.8" font-family="'Liberation Serif', 'DejaVu Serif', serif" style="stroke-width:0.05px" textLength="8.2" lengthAdjust="spacingAndGlyphs">E</text>
<text x="39.42" y="200.67" font-size="9.8" font-family="'Liberation Serif', 'DejaVu Serif', serif" textLength="32.38" lengthAdjust="spacingAndGlyphs">250,000</text>
<text x="67.2" y="219.96" font-size="9.8" font-family="'Liberation Serif', 'DejaVu Serif', serif" textLength="4.6" lengthAdjust="spacingAndGlyphs">0</text>
<text x="36.09" y="239.25" font-size="9.8" font-family="'Liberation Serif', 'DejaVu Serif', serif" textLength="35.71" lengthAdjust="spacingAndGlyphs">-250,000</text>
<text x="36.09" y="258.54" font-size="9.8" font-family="'Liberation Serif', 'DejaVu Serif', serif" textLength="35.71" lengthAdjust="spacingAndGlyphs">-500,000</text>
<clipPath id="cp21"><rect x="257.5" y="192.73" width="167" height="62.5"/></clipPath>
<g clip-path="url(#cp21)">
<line x1="263.8" y1="216.9" x2="416.75" y2="214.6" stroke="#a6cee3" stroke-width="2.5" stroke-linecap="butt"/>
<line x1="263.8" y1="213.8" x2="416.75" y2="210" stroke="#1f78b4" stroke-width="2.5" stroke-linecap="butt"/>
<line x1="263.8" y1="216.8" x2="416.75" y2="213.8" stroke="#b2df8a" stroke-width="3.4" stroke-linecap="butt"/>
<line x1="263.8" y1="214.1" x2="416.75" y2="206.3" stroke="#33a02c" stroke-width="3.6" stroke-linecap="butt"/>
<circle cx="264.5" cy="217.1" r="2.5" fill="#a6cee3"/>
<circle cx="293.5" cy="216.5" r="2.5" fill="#a6cee3"/>
<circle cx="304.5" cy="215.8" r="2.5" fill="#a6cee3"/>
<circle cx="313.4" cy="216.3" r="2.5" fill="#a6cee3"/>
<circle cx="314.6" cy="216.3" r="2.5" fill="#a6cee3"/>
<circle cx="319" cy="215.8" r="2.5" fill="#a6cee3"/>
<circle cx="321.5" cy="215.8" r="2.5" fill="#a6cee3"/>
<circle cx="334.6" cy="215.3" r="2.5" fill="#a6cee3"/>
<circle cx="336.75" cy="215.3" r="2.5" fill="#a6cee3"/>
<circle cx="338.75" cy="215.3" r="2.5" fill="#a6cee3"/>
<circle cx="343.4" cy="214.8" r="2.5" fill="#a6cee3"/>
<circle cx="352.75" cy="214.8" r="2.5" fill="#a6cee3"/>
<circle cx="354" cy="214.8" r="2.5" fill="#a6cee3"/>
<circle cx="412" cy="212.8" r="2.5" fill="#a6cee3"/>
<circle cx="416.75" cy="214.6" r="2.5" fill="#a6cee3"/>
<rect x="262.05" y="213.85" width="4.9" height="4.9" fill="#b2df8a"/>
<rect x="291.05" y="213.25" width="4.9" height="4.9" fill="#b2df8a"/>
<rect x="302.05" y="212.55" width="4.9" height="4.9" fill="#b2df8a"/>
<rect x="310.95" y="213.05" width="4.9" height="4.9" fill="#b2df8a"/>
<rect x="312.15" y="213.05" width="4.9" height="4.9" fill="#b2df8a"/>
<rect x="316.55" y="212.55" width="4.9" height="4.9" fill="#b2df8a"/>
<rect x="319.05" y="212.55" width="4.9" height="4.9" fill="#b2df8a"/>
<rect x="332.15" y="212.05" width="4.9" height="4.9" fill="#b2df8a"/>
<rect x="334.3" y="212.05" width="4.9" height="4.9" fill="#b2df8a"/>
<rect x="336.3" y="212.05" width="4.9" height="4.9" fill="#b2df8a"/>
<rect x="340.95" y="211.55" width="4.9" height="4.9" fill="#b2df8a"/>
<rect x="350.3" y="211.55" width="4.9" height="4.9" fill="#b2df8a"/>
<rect x="351.55" y="211.55" width="4.9" height="4.9" fill="#b2df8a"/>
<rect x="409.55" y="209.55" width="4.9" height="4.9" fill="#b2df8a"/>
<rect x="414.3" y="211.35" width="4.9" height="4.9" fill="#b2df8a"/>
<polygon points="264.5,211.9 267.16,213.83 266.15,216.97 262.85,216.97 261.84,213.83" fill="#1f78b4"/>
<polygon points="293.5,211.9 296.16,213.83 295.15,216.97 291.85,216.97 290.84,213.83" fill="#1f78b4"/>
<polygon points="304.5,208.7 307.16,210.63 306.15,213.77 302.85,213.77 301.84,210.63" fill="#1f78b4"/>
<polygon points="313.4,210.7 316.06,212.63 315.05,215.77 311.75,215.77 310.74,212.63" fill="#1f78b4"/>
<polygon points="314.6,209.7 317.26,211.63 316.25,214.77 312.95,214.77 311.94,211.63" fill="#1f78b4"/>
<polygon points="319,209.2 321.66,211.13 320.65,214.27 317.35,214.27 316.34,211.13" fill="#1f78b4"/>
<polygon points="321.5,210.2 324.16,212.13 323.15,215.27 319.85,215.27 318.84,212.13" fill="#1f78b4"/>
<polygon points="334.6,209.7 337.26,211.63 336.25,214.77 332.95,214.77 331.94,211.63" fill="#1f78b4"/>
<polygon points="336.75,207.7 339.41,209.63 338.4,212.77 335.1,212.77 334.09,209.63" fill="#1f78b4"/>
<polygon points="338.75,209.2 341.41,211.13 340.4,214.27 337.1,214.27 336.09,211.13" fill="#1f78b4"/>
<polygon points="343.4,208.7 346.06,210.63 345.05,213.77 341.75,213.77 340.74,210.63" fill="#1f78b4"/>
<polygon points="352.75,206.7 355.41,208.63 354.4,211.77 351.1,211.77 350.09,208.63" fill="#1f78b4"/>
<polygon points="354,208.2 356.66,210.13 355.65,213.27 352.35,213.27 351.34,210.13" fill="#1f78b4"/>
<polygon points="412,201.9 414.66,203.83 413.65,206.97 410.35,206.97 409.34,203.83" fill="#1f78b4"/>
<polygon points="416.75,205.6 419.41,207.53 418.4,210.67 415.1,210.67 414.09,207.53" fill="#1f78b4"/>
<polygon points="264.5,209.3 267,213.2 264.5,217.1 262,213.2" fill="#33a02c"/>
<polygon points="293.5,209.3 296,213.2 293.5,217.1 291,213.2" fill="#33a02c"/>
<polygon points="304.5,206.1 307,210 304.5,213.9 302,210" fill="#33a02c"/>
<polygon points="313.4,208.1 315.9,212 313.4,215.9 310.9,212" fill="#33a02c"/>
<polygon points="314.6,207.1 317.1,211 314.6,214.9 312.1,211" fill="#33a02c"/>
<polygon points="319,206.6 321.5,210.5 319,214.4 316.5,210.5" fill="#33a02c"/>
<polygon points="321.5,207.6 324,211.5 321.5,215.4 319,211.5" fill="#33a02c"/>
<polygon points="334.6,207.1 337.1,211 334.6,214.9 332.1,211" fill="#33a02c"/>
<polygon points="336.75,205.1 339.25,209 336.75,212.9 334.25,209" fill="#33a02c"/>
<polygon points="338.75,206.6 341.25,210.5 338.75,214.4 336.25,210.5" fill="#33a02c"/>
<polygon points="343.4,206.1 345.9,210 343.4,213.9 340.9,210" fill="#33a02c"/>
<polygon points="352.75,204.1 355.25,208 352.75,211.9 350.25,208" fill="#33a02c"/>
<polygon points="354,205.6 356.5,209.5 354,213.4 351.5,209.5" fill="#33a02c"/>
<polygon points="412,199.3 414.5,203.2 412,207.1 409.5,203.2" fill="#33a02c"/>
<polygon points="416.75,203 419.25,206.9 416.75,210.8 414.25,206.9" fill="#33a02c"/>
</g>
<path d="M292.1 255.23v-4M292.1 192.73v4M327.5 255.23v-4M327.5 192.73v4M362.9 255.23v-4M362.9 192.73v4M398.3 255.23v-4M398.3 192.73v4M257.5 196.97h4M424.5 196.97h-4M257.5 216.26h4M424.5 216.26h-4M257.5 235.55h4M424.5 235.55h-4M257.5 254.84h4M424.5 254.84h-4" stroke="#000" stroke-width="1.1" fill="none"/>
<rect x="257.5" y="192.73" width="167" height="62.5" fill="none" stroke="#000" stroke-width="1.0"/>
<text x="258.1" y="189.53" font-size="14.8" font-family="'Liberation Serif', 'DejaVu Serif', serif" style="stroke-width:0.05px" textLength="7.8" lengthAdjust="spacingAndGlyphs">F</text>
<clipPath id="cp30"><rect x="76.5" y="280.02" width="167" height="62.5"/></clipPath>
<g clip-path="url(#cp30)">
<line x1="83.9" y1="300.8" x2="236" y2="302.2" stroke="#a6cee3" stroke-width="1.2" stroke-linecap="butt"/>
<line x1="83.9" y1="299.2" x2="236" y2="301" stroke="#1f78b4" stroke-width="1.3" stroke-linecap="butt"/>
<line x1="83.9" y1="302.3" x2="236" y2="303.8" stroke="#b2df8a" stroke-width="1.0" stroke-linecap="butt"/>
<line x1="83.9" y1="304.4" x2="236" y2="304.8" stroke="#33a02c" stroke-width="1.3" stroke-linecap="butt"/>
<circle cx="83.9" cy="300.8" r="2.5" fill="#a6cee3"/>
<circle cx="97.6" cy="301.2" r="2.5" fill="#a6cee3"/>
<circle cx="118.6" cy="300.8" r="2.5" fill="#a6cee3"/>
<circle cx="122.4" cy="300.5" r="2.5" fill="#a6cee3"/>
<circle cx="134.5" cy="300.5" r="2.5" fill="#a6cee3"/>
<circle cx="136.1" cy="301" r="2.5" fill="#a6cee3"/>
<circle cx="142.7" cy="300.2" r="2.5" fill="#a6cee3"/>
<circle cx="148.3" cy="302" r="2.5" fill="#a6cee3"/>
<circle cx="154.3" cy="300.5" r="2.5" fill="#a6cee3"/>
<circle cx="157.7" cy="300.5" r="2.5" fill="#a6cee3"/>
<circle cx="164.6" cy="301" r="2.5" fill="#a6cee3"/>
<circle cx="191.8" cy="301" r="2.5" fill="#a6cee3"/>
<circle cx="196.5" cy="302" r="2.5" fill="#a6cee3"/>
<circle cx="204.5" cy="301.2" r="2.5" fill="#a6cee3"/>
<circle cx="236" cy="301.5" r="2.5" fill="#a6cee3"/>
<rect x="81.45" y="299.55" width="4.9" height="4.9" fill="#b2df8a"/>
<rect x="95.15" y="300.05" width="4.9" height="4.9" fill="#b2df8a"/>
<rect x="116.15" y="299.55" width="4.9" height="4.9" fill="#b2df8a"/>
<rect x="119.95" y="299.55" width="4.9" height="4.9" fill="#b2df8a"/>
<rect x="132.05" y="299.55" width="4.9" height="4.9" fill="#b2df8a"/>
<rect x="133.65" y="300.05" width="4.9" height="4.9" fill="#b2df8a"/>
<rect x="140.25" y="298.15" width="4.9" height="4.9" fill="#b2df8a"/>
<rect x="145.85" y="300.55" width="4.9" height="4.9" fill="#b2df8a"/>
<rect x="151.85" y="299.05" width="4.9" height="4.9" fill="#b2df8a"/>
<rect x="155.25" y="299.55" width="4.9" height="4.9" fill="#b2df8a"/>
<rect x="162.15" y="299.55" width="4.9" height="4.9" fill="#b2df8a"/>
<rect x="189.35" y="300.05" width="4.9" height="4.9" fill="#b2df8a"/>
<rect x="194.05" y="300.85" width="4.9" height="4.9" fill="#b2df8a"/>
<rect x="202.05" y="300.05" width="4.9" height="4.9" fill="#b2df8a"/>
<rect x="233.55" y="301.15" width="4.9" height="4.9" fill="#b2df8a"/>
<polygon points="83.9,296.4 86.56,298.33 85.55,301.47 82.25,301.47 81.24,298.33" fill="#1f78b4"/>
<polygon points="97.6,297.6 100.26,299.53 99.25,302.67 95.95,302.67 94.94,299.53" fill="#1f78b4"/>
<polygon points="118.6,296.5 121.26,298.43 120.25,301.57 116.95,301.57 115.94,298.43" fill="#1f78b4"/>
<polygon points="122.4,296.1 125.06,298.03 124.05,301.17 120.75,301.17 119.74,298.03" fill="#1f78b4"/>
<polygon points="134.5,296.1 137.16,298.03 136.15,301.17 132.85,301.17 131.84,298.03" fill="#1f78b4"/>
<polygon points="136.1,296.8 138.76,298.73 137.75,301.87 134.45,301.87 133.44,298.73" fill="#1f78b4"/>
<polygon points="142.7,295.8 145.36,297.73 144.35,300.87 141.05,300.87 140.04,297.73" fill="#1f78b4"/>
<polygon points="148.3,298 150.96,299.93 149.95,303.07 146.65,303.07 145.64,299.93" fill="#1f78b4"/>
<polygon points="154.3,296.1 156.96,298.03 155.95,301.17 152.65,301.17 151.64,298.03" fill="#1f78b4"/>
<polygon points="157.7,295.8 160.36,297.73 159.35,300.87 156.05,300.87 155.04,297.73" fill="#1f78b4"/>
<polygon points="164.6,297 167.26,298.93 166.25,302.07 162.95,302.07 161.94,298.93" fill="#1f78b4"/>
<polygon points="191.8,297 194.46,298.93 193.45,302.07 190.15,302.07 189.14,298.93" fill="#1f78b4"/>
<polygon points="196.5,298.3 199.16,300.23 198.15,303.37 194.85,303.37 193.84,300.23" fill="#1f78b4"/>
<polygon points="204.5,297.4 207.16,299.33 206.15,302.47 202.85,302.47 201.84,299.33" fill="#1f78b4"/>
<polygon points="236,298.1 238.66,300.03 237.65,303.17 234.35,303.17 233.34,300.03" fill="#1f78b4"/>
<polygon points="83.9,301.3 86.4,305.2 83.9,309.1 81.4,305.2" fill="#33a02c"/>
<polygon points="97.6,303.3 100.1,307.2 97.6,311.1 95.1,307.2" fill="#33a02c"/>
<polygon points="118.6,300.9 121.1,304.8 118.6,308.7 116.1,304.8" fill="#33a02c"/>
<polygon points="122.4,301.3 124.9,305.2 122.4,309.1 119.9,305.2" fill="#33a02c"/>
<polygon points="134.5,302.2 137,306.1 134.5,310 132,306.1" fill="#33a02c"/>
<polygon points="136.1,302.9 138.6,306.8 136.1,310.7 133.6,306.8" fill="#33a02c"/>
<polygon points="142.7,298.8 145.2,302.7 142.7,306.6 140.2,302.7" fill="#33a02c"/>
<polygon points="148.3,304.2 150.8,308.1 148.3,312 145.8,308.1" fill="#33a02c"/>
<polygon points="154.3,298.8 156.8,302.7 154.3,306.6 151.8,302.7" fill="#33a02c"/>
<polygon points="157.7,302.2 160.2,306.1 157.7,310 155.2,306.1" fill="#33a02c"/>
<polygon points="164.6,302.5 167.1,306.4 164.6,310.3 162.1,306.4" fill="#33a02c"/>
<polygon points="191.8,303.6 194.3,307.5 191.8,311.4 189.3,307.5" fill="#33a02c"/>
<polygon points="196.5,305.1 199,309 196.5,312.9 194,309" fill="#33a02c"/>
<polygon points="204.5,301.9 207,305.8 204.5,309.7 202,305.8" fill="#33a02c"/>
<polygon points="236,302.1 238.5,306 236,309.9 233.5,306" fill="#33a02c"/>
</g>
<path d="M97.5 342.52v-4M97.5 280.02v4M131.93 342.52v-4M131.93 280.02v4M166.35 342.52v-4M166.35 280.02v4M200.77 342.52v-4M200.77 280.02v4M235.2 342.52v-4M235.2 280.02v4M76.5 288.95h4M243.5 288.95h-4M76.5 315.73h4M243.5 315.73h-4M76.5 342.52h4M243.5 342.52h-4" stroke="#000" stroke-width="1.1" fill="none"/>
<path d="M76.5 280.02h2.5M243.5 280.02h-2.5M76.5 297.88h2.5M243.5 297.88h-2.5M76.5 306.81h2.5M243.5 306.81h-2.5M76.5 324.66h2.5M243.5 324.66h-2.5M76.5 333.59h2.5M243.5 333.59h-2.5" stroke="#000" stroke-width="0.9" fill="none"/>
<rect x="76.5" y="280.02" width="167" height="62.5" fill="none" stroke="#000" stroke-width="1.0"/>
<text x="76.9" y="276.82" font-size="14.8" font-family="'Liberation Serif', 'DejaVu Serif', serif" style="stroke-width:0.05px" textLength="9.4" lengthAdjust="spacingAndGlyphs">G</text>
<text x="67.2" y="292.65" font-size="9.8" font-family="'Liberation Serif', 'DejaVu Serif', serif" textLength="4.6" lengthAdjust="spacingAndGlyphs">0</text>
<text x="41.09" y="319.43" font-size="9.8" font-family="'Liberation Serif', 'DejaVu Serif', serif" textLength="30.71" lengthAdjust="spacingAndGlyphs">-30,000</text>
<text x="41.09" y="346.22" font-size="9.8" font-family="'Liberation Serif', 'DejaVu Serif', serif" textLength="30.71" lengthAdjust="spacingAndGlyphs">-60,000</text>
<clipPath id="cp31"><rect x="257.5" y="280.02" width="167" height="62.5"/></clipPath>
<g clip-path="url(#cp31)">
<line x1="263.8" y1="302" x2="416.75" y2="302.5" stroke="#a6cee3" stroke-width="2.0" stroke-linecap="butt"/>
<line x1="263.8" y1="300.7" x2="416.75" y2="300.2" stroke="#1f78b4" stroke-width="1.5" stroke-linecap="butt"/>
<line x1="263.8" y1="302.3" x2="416.75" y2="304.6" stroke="#b2df8a" stroke-width="4.6" stroke-linecap="butt"/>
<line x1="263.8" y1="302.8" x2="416.75" y2="306.8" stroke="#33a02c" stroke-width="3.2" stroke-linecap="butt"/>
<circle cx="264.5" cy="300.5" r="2.5" fill="#a6cee3"/>
<circle cx="293.5" cy="301" r="2.5" fill="#a6cee3"/>
<circle cx="304.5" cy="302" r="2.5" fill="#a6cee3"/>
<circle cx="313.4" cy="302" r="2.5" fill="#a6cee3"/>
<circle cx="314.6" cy="302" r="2.5" fill="#a6cee3"/>
<circle cx="319" cy="302" r="2.5" fill="#a6cee3"/>
<circle cx="321.5" cy="302.5" r="2.5" fill="#a6cee3"/>
<circle cx="334.6" cy="302.5" r="2.5" fill="#a6cee3"/>
<circle cx="336.75" cy="302.5" r="2.5" fill="#a6cee3"/>
<circle cx="338.75" cy="302.5" r="2.5" fill="#a6cee3"/>
<circle cx="343.4" cy="302.5" r="2.5" fill="#a6cee3"/>
<circle cx="352.75" cy="303" r="2.5" fill="#a6cee3"/>
<circle cx="354" cy="303" r="2.5" fill="#a6cee3"/>
<circle cx="412" cy="303.5" r="2.5" fill="#a6cee3"/>
<circle cx="416.75" cy="303.5" r="2.5" fill="#a6cee3"/>
<rect x="262.05" y="299.05" width="4.9" height="4.9" fill="#b2df8a"/>
<rect x="291.05" y="299.55" width="4.9" height="4.9" fill="#b2df8a"/>
<rect x="302.05" y="300.55" width="4.9" height="4.9" fill="#b2df8a"/>
<rect x="310.95" y="300.55" width="4.9" height="4.9" fill="#b2df8a"/>
<rect x="312.15" y="300.55" width="4.9" height="4.9" fill="#b2df8a"/>
<rect x="316.55" y="300.55" width="4.9" height="4.9" fill="#b2df8a"/>
<rect x="319.05" y="301.05" width="4.9" height="4.9" fill="#b2df8a"/>
<rect x="332.15" y="301.05" width="4.9" height="4.9" fill="#b2df8a"/>
<rect x="334.3" y="301.05" width="4.9" height="4.9" fill="#b2df8a"/>
<rect x="336.3" y="301.05" width="4.9" height="4.9" fill="#b2df8a"/>
<rect x="340.95" y="301.05" width="4.9" height="4.9" fill="#b2df8a"/>
<rect x="350.3" y="301.55" width="4.9" height="4.9" fill="#b2df8a"/>
<rect x="351.55" y="301.55" width="4.9" height="4.9" fill="#b2df8a"/>
<rect x="409.55" y="302.05" width="4.9" height="4.9" fill="#b2df8a"/>
<rect x="414.3" y="302.05" width="4.9" height="4.9" fill="#b2df8a"/>
<polygon points="264.5,296.1 267.16,298.03 266.15,301.17 262.85,301.17 261.84,298.03" fill="#1f78b4"/>
<polygon points="293.5,295.5 296.16,297.43 295.15,300.57 291.85,300.57 290.84,297.43" fill="#1f78b4"/>
<polygon points="304.5,298 307.16,299.93 306.15,303.07 302.85,303.07 301.84,299.93" fill="#1f78b4"/>
<polygon points="313.4,296.2 316.06,298.13 315.05,301.27 311.75,301.27 310.74,298.13" fill="#1f78b4"/>
<polygon points="314.6,296.2 317.26,298.13 316.25,301.27 312.95,301.27 311.94,298.13" fill="#1f78b4"/>
<polygon points="319,296.7 321.66,298.63 320.65,301.77 317.35,301.77 316.34,298.63" fill="#1f78b4"/>
<polygon points="321.5,296.7 324.16,298.63 323.15,301.77 319.85,301.77 318.84,298.63" fill="#1f78b4"/>
<polygon points="334.6,297.2 337.26,299.13 336.25,302.27 332.95,302.27 331.94,299.13" fill="#1f78b4"/>
<polygon points="336.75,296.7 339.41,298.63 338.4,301.77 335.1,301.77 334.09,298.63" fill="#1f78b4"/>
<polygon points="338.75,296.7 341.41,298.63 340.4,301.77 337.1,301.77 336.09,298.63" fill="#1f78b4"/>
<polygon points="343.4,296.2 346.06,298.13 345.05,301.27 341.75,301.27 340.74,298.13" fill="#1f78b4"/>
<polygon points="352.75,296.2 355.41,298.13 354.4,301.27 351.1,301.27 350.09,298.13" fill="#1f78b4"/>
<polygon points="354,296.2 356.66,298.13 355.65,301.27 352.35,301.27 351.34,298.13" fill="#1f78b4"/>
<polygon points="412,298 414.66,299.93 413.65,303.07 410.35,303.07 409.34,299.93" fill="#1f78b4"/>
<polygon points="416.75,296.5 419.41,298.43 418.4,301.57 415.1,301.57 414.09,298.43" fill="#1f78b4"/>
<polygon points="264.5,299.4 267,303.3 264.5,307.2 262,303.3" fill="#33a02c"/>
<polygon points="293.5,298.8 296,302.7 293.5,306.6 291,302.7" fill="#33a02c"/>
<polygon points="304.5,304.4 307,308.3 304.5,312.2 302,308.3" fill="#33a02c"/>
<polygon points="313.4,302.1 315.9,306 313.4,309.9 310.9,306" fill="#33a02c"/>
<polygon points="314.6,301.1 317.1,305 314.6,308.9 312.1,305" fill="#33a02c"/>
<polygon points="319,301.6 321.5,305.5 319,309.4 316.5,305.5" fill="#33a02c"/>
<polygon points="321.5,302.1 324,306 321.5,309.9 319,306" fill="#33a02c"/>
<polygon points="334.6,302.1 337.1,306 334.6,309.9 332.1,306" fill="#33a02c"/>
<polygon points="336.75,301.6 339.25,305.5 336.75,309.4 334.25,305.5" fill="#33a02c"/>
<polygon points="338.75,301.6 341.25,305.5 338.75,309.4 336.25,305.5" fill="#33a02c"/>
<polygon points="343.4,301.1 345.9,305 343.4,308.9 340.9,305" fill="#33a02c"/>
<polygon points="352.75,302.6 355.25,306.5 352.75,310.4 350.25,306.5" fill="#33a02c"/>
<polygon points="354,302.1 356.5,306 354,309.9 351.5,306" fill="#33a02c"/>
<polygon points="412,303.8 414.5,307.7 412,311.6 409.5,307.7" fill="#33a02c"/>
<polygon points="416.75,302.2 419.25,306.1 416.75,310 414.25,306.1" fill="#33a02c"/>
</g>
<path d="M292.1 342.52v-4M292.1 280.02v4M327.5 342.52v-4M327.5 280.02v4M362.9 342.52v-4M362.9 280.02v4M398.3 342.52v-4M398.3 280.02v4M257.5 288.95h4M424.5 288.95h-4M257.5 315.73h4M424.5 315.73h-4M257.5 342.52h4M424.5 342.52h-4" stroke="#000" stroke-width="1.1" fill="none"/>
<path d="M257.5 280.02h2.5M424.5 280.02h-2.5M257.5 297.88h2.5M424.5 297.88h-2.5M257.5 306.81h2.5M424.5 306.81h-2.5M257.5 324.66h2.5M424.5 324.66h-2.5M257.5 333.59h2.5M424.5 333.59h-2.5" stroke="#000" stroke-width="0.9" fill="none"/>
<rect x="257.5" y="280.02" width="167" height="62.5" fill="none" stroke="#000" stroke-width="1.0"/>
<text x="258.1" y="276.82" font-size="14.8" font-family="'Liberation Serif', 'DejaVu Serif', serif" style="stroke-width:0.05px" textLength="9.2" lengthAdjust="spacingAndGlyphs">H</text>
<clipPath id="cp40"><rect x="76.5" y="367.31" width="167" height="62.5"/></clipPath>
<g clip-path="url(#cp40)">
<line x1="83.9" y1="409.4" x2="236" y2="411.2" stroke="#a6cee3" stroke-width="1.4" stroke-linecap="butt"/>
<line x1="83.9" y1="417" x2="236" y2="419.4" stroke="#1f78b4" stroke-width="1.3" stroke-linecap="butt"/>
<line x1="83.9" y1="394.5" x2="236" y2="394.2" stroke="#b2df8a" stroke-width="1.1" stroke-linecap="butt"/>
<line x1="83.9" y1="397" x2="236" y2="399.6" stroke="#33a02c" stroke-width="1.3" stroke-linecap="butt"/>
<circle cx="83.9" cy="409.5" r="2.5" fill="#a6cee3"/>
<circle cx="97.6" cy="416.4" r="2.5" fill="#a6cee3"/>
<circle cx="118.6" cy="404.2" r="2.5" fill="#a6cee3"/>
<circle cx="122.4" cy="404.2" r="2.5" fill="#a6cee3"/>
<circle cx="134.5" cy="413.6" r="2.5" fill="#a6cee3"/>
<circle cx="136.1" cy="405" r="2.5" fill="#a6cee3"/>
<circle cx="142.7" cy="398" r="2.5" fill="#a6cee3"/>
<circle cx="148.3" cy="416.1" r="2.5" fill="#a6cee3"/>
<circle cx="154.3" cy="388.8" r="2.5" fill="#a6cee3"/>
<circle cx="157.7" cy="411.4" r="2.5" fill="#a6cee3"/>
<circle cx="164.6" cy="408.9" r="2.5" fill="#a6cee3"/>
<circle cx="191.8" cy="411.9" r="2.5" fill="#a6cee3"/>
<circle cx="196.5" cy="404.8" r="2.5" fill="#a6cee3"/>
<circle cx="204.5" cy="407.5" r="2.5" fill="#a6cee3"/>
<circle cx="236" cy="411" r="2.5" fill="#a6cee3"/>
<rect x="81.45" y="389.95" width="4.9" height="4.9" fill="#b2df8a"/>
<rect x="95.15" y="393.85" width="4.9" height="4.9" fill="#b2df8a"/>
<rect x="116.15" y="388.25" width="4.9" height="4.9" fill="#b2df8a"/>
<rect x="119.95" y="388.25" width="4.9" height="4.9" fill="#b2df8a"/>
<rect x="132.05" y="390.55" width="4.9" height="4.9" fill="#b2df8a"/>
<rect x="133.65" y="387.55" width="4.9" height="4.9" fill="#b2df8a"/>
<rect x="140.25" y="384.85" width="4.9" height="4.9" fill="#b2df8a"/>
<rect x="145.85" y="393.65" width="4.9" height="4.9" fill="#b2df8a"/>
<rect x="151.85" y="380.75" width="4.9" height="4.9" fill="#b2df8a"/>
<rect x="155.25" y="391.95" width="4.9" height="4.9" fill="#b2df8a"/>
<rect x="162.15" y="390.15" width="4.9" height="4.9" fill="#b2df8a"/>
<rect x="189.35" y="391.55" width="4.9" height="4.9" fill="#b2df8a"/>
<rect x="194.05" y="387.55" width="4.9" height="4.9" fill="#b2df8a"/>
<rect x="202.05" y="389.05" width="4.9" height="4.9" fill="#b2df8a"/>
<rect x="233.55" y="391.55" width="4.9" height="4.9" fill="#b2df8a"/>
<polygon points="83.9,415.6 86.56,417.53 85.55,420.67 82.25,420.67 81.24,417.53" fill="#1f78b4"/>
<polygon points="97.6,418.2 100.26,420.13 99.25,423.27 95.95,423.27 94.94,420.13" fill="#1f78b4"/>
<polygon points="118.6,413.6 121.26,415.53 120.25,418.67 116.95,418.67 115.94,415.53" fill="#1f78b4"/>
<polygon points="122.4,413.6 125.06,415.53 124.05,418.67 120.75,418.67 119.74,415.53" fill="#1f78b4"/>
<polygon points="134.5,415.5 137.16,417.43 136.15,420.57 132.85,420.57 131.84,417.43" fill="#1f78b4"/>
<polygon points="136.1,415.5 138.76,417.43 137.75,420.57 134.45,420.57 133.44,417.43" fill="#1f78b4"/>
<polygon points="142.7,410.8 145.36,412.73 144.35,415.87 141.05,415.87 140.04,412.73" fill="#1f78b4"/>
<polygon points="148.3,417.3 150.96,419.23 149.95,422.37 146.65,422.37 145.64,419.23" fill="#1f78b4"/>
<polygon points="154.3,409.2 156.96,411.13 155.95,414.27 152.65,414.27 151.64,411.13" fill="#1f78b4"/>
<polygon points="157.7,413 160.36,414.93 159.35,418.07 156.05,418.07 155.04,414.93" fill="#1f78b4"/>
<polygon points="164.6,416.1 167.26,418.03 166.25,421.17 162.95,421.17 161.94,418.03" fill="#1f78b4"/>
<polygon points="191.8,416.2 194.46,418.13 193.45,421.27 190.15,421.27 189.14,418.13" fill="#1f78b4"/>
<polygon points="196.5,419.1 199.16,421.03 198.15,424.17 194.85,424.17 193.84,421.03" fill="#1f78b4"/>
<polygon points="204.5,415 207.16,416.93 206.15,420.07 202.85,420.07 201.84,416.93" fill="#1f78b4"/>
<polygon points="236,416.6 238.66,418.53 237.65,421.67 234.35,421.67 233.34,418.53" fill="#1f78b4"/>
<polygon points="83.9,395.9 86.4,399.8 83.9,403.7 81.4,399.8" fill="#33a02c"/>
<polygon points="97.6,396.8 100.1,400.7 97.6,404.6 95.1,400.7" fill="#33a02c"/>
<polygon points="118.6,394.3 121.1,398.2 118.6,402.1 116.1,398.2" fill="#33a02c"/>
<polygon points="122.4,394.3 124.9,398.2 122.4,402.1 119.9,398.2" fill="#33a02c"/>
<polygon points="134.5,394.7 137,398.6 134.5,402.5 132,398.6" fill="#33a02c"/>
<polygon points="136.1,395.1 138.6,399 136.1,402.9 133.6,399" fill="#33a02c"/>
<polygon points="142.7,391.6 145.2,395.5 142.7,399.4 140.2,395.5" fill="#33a02c"/>
<polygon points="148.3,396.6 150.8,400.5 148.3,404.4 145.8,400.5" fill="#33a02c"/>
<polygon points="154.3,391.2 156.8,395.1 154.3,399 151.8,395.1" fill="#33a02c"/>
<polygon points="157.7,394.7 160.2,398.6 157.7,402.5 155.2,398.6" fill="#33a02c"/>
<polygon points="164.6,394.3 167.1,398.2 164.6,402.1 162.1,398.2" fill="#33a02c"/>
<polygon points="191.8,396.1 194.3,400 191.8,403.9 189.3,400" fill="#33a02c"/>
<polygon points="196.5,396.1 199,400 196.5,403.9 194,400" fill="#33a02c"/>
<polygon points="204.5,395.1 207,399 204.5,402.9 202,399" fill="#33a02c"/>
<polygon points="236,396.7 238.5,400.6 236,404.5 233.5,400.6" fill="#33a02c"/>
</g>
<path d="M97.5 429.81v-4M97.5 367.31v4M131.93 429.81v-4M131.93 367.31v4M166.35 429.81v-4M166.35 367.31v4M200.77 429.81v-4M200.77 367.31v4M235.2 429.81v-4M235.2 367.31v4M76.5 376.24h4M243.5 376.24h-4M76.5 403.02h4M243.5 403.02h-4M76.5 429.81h4M243.5 429.81h-4" stroke="#000" stroke-width="1.1" fill="none"/>
<path d="M76.5 367.31h2.5M243.5 367.31h-2.5M76.5 385.17h2.5M243.5 385.17h-2.5M76.5 394.1h2.5M243.5 394.1h-2.5M76.5 411.95h2.5M243.5 411.95h-2.5M76.5 420.88h2.5M243.5 420.88h-2.5" stroke="#000" stroke-width="0.9" fill="none"/>
<rect x="76.5" y="367.31" width="167" height="62.5" fill="none" stroke="#000" stroke-width="1.0"/>
<text x="76.9" y="364.11" font-size="14.8" font-family="'Liberation Serif', 'DejaVu Serif', serif" style="stroke-width:0.05px" textLength="4.4" lengthAdjust="spacingAndGlyphs">I</text>
<text x="67.2" y="379.94" font-size="9.8" font-family="'Liberation Serif', 'DejaVu Serif', serif" textLength="4.6" lengthAdjust="spacingAndGlyphs">0</text>
<text x="41.09" y="406.72" font-size="9.8" font-family="'Liberation Serif', 'DejaVu Serif', serif" textLength="30.71" lengthAdjust="spacingAndGlyphs">-30,000</text>
<text x="41.09" y="433.51" font-size="9.8" font-family="'Liberation Serif', 'DejaVu Serif', serif" textLength="30.71" lengthAdjust="spacingAndGlyphs">-60,000</text>
<clipPath id="cp41"><rect x="257.5" y="367.31" width="167" height="62.5"/></clipPath>
<g clip-path="url(#cp41)">
<line x1="263.8" y1="401.3" x2="416.75" y2="415.5" stroke="#a6cee3" stroke-width="3.5" stroke-linecap="butt"/>
<line x1="263.8" y1="419.6" x2="416.75" y2="419.5" stroke="#1f78b4" stroke-width="1.2" stroke-linecap="butt"/>
<line x1="263.8" y1="390.4" x2="416.75" y2="395.2" stroke="#b2df8a" stroke-width="3.2" stroke-linecap="butt"/>
<line x1="263.8" y1="397.5" x2="416.75" y2="400.5" stroke="#33a02c" stroke-width="1.5" stroke-linecap="butt"/>
<circle cx="264.5" cy="389.1" r="2.5" fill="#a6cee3"/>
<circle cx="293.5" cy="397" r="2.5" fill="#a6cee3"/>
<circle cx="304.5" cy="402" r="2.5" fill="#a6cee3"/>
<circle cx="313.4" cy="404" r="2.5" fill="#a6cee3"/>
<circle cx="314.6" cy="404" r="2.5" fill="#a6cee3"/>
<circle cx="319" cy="409.5" r="2.5" fill="#a6cee3"/>
<circle cx="321.5" cy="406" r="2.5" fill="#a6cee3"/>
<circle cx="334.6" cy="411.4" r="2.5" fill="#a6cee3"/>
<circle cx="336.75" cy="410" r="2.5" fill="#a6cee3"/>
<circle cx="338.75" cy="409" r="2.5" fill="#a6cee3"/>
<circle cx="343.4" cy="406.4" r="2.5" fill="#a6cee3"/>
<circle cx="352.75" cy="412.6" r="2.5" fill="#a6cee3"/>
<circle cx="354" cy="410" r="2.5" fill="#a6cee3"/>
<circle cx="412" cy="414.5" r="2.5" fill="#a6cee3"/>
<circle cx="416.75" cy="413.9" r="2.5" fill="#a6cee3"/>
<rect x="262.05" y="380.65" width="4.9" height="4.9" fill="#b2df8a"/>
<rect x="291.05" y="384.85" width="4.9" height="4.9" fill="#b2df8a"/>
<rect x="302.05" y="386.95" width="4.9" height="4.9" fill="#b2df8a"/>
<rect x="310.95" y="387.35" width="4.9" height="4.9" fill="#b2df8a"/>
<rect x="312.15" y="387.35" width="4.9" height="4.9" fill="#b2df8a"/>
<rect x="316.55" y="387.45" width="4.9" height="4.9" fill="#b2df8a"/>
<rect x="319.05" y="387.45" width="4.9" height="4.9" fill="#b2df8a"/>
<rect x="332.15" y="389.55" width="4.9" height="4.9" fill="#b2df8a"/>
<rect x="334.3" y="389.35" width="4.9" height="4.9" fill="#b2df8a"/>
<rect x="336.3" y="389.55" width="4.9" height="4.9" fill="#b2df8a"/>
<rect x="340.95" y="389.05" width="4.9" height="4.9" fill="#b2df8a"/>
<rect x="350.3" y="391.55" width="4.9" height="4.9" fill="#b2df8a"/>
<rect x="351.55" y="391.55" width="4.9" height="4.9" fill="#b2df8a"/>
<rect x="409.55" y="392.15" width="4.9" height="4.9" fill="#b2df8a"/>
<rect x="414.3" y="392.15" width="4.9" height="4.9" fill="#b2df8a"/>
<polygon points="264.5,409.5 267.16,411.43 266.15,414.57 262.85,414.57 261.84,411.43" fill="#1f78b4"/>
<polygon points="293.5,410.95 296.16,412.88 295.15,416.02 291.85,416.02 290.84,412.88" fill="#1f78b4"/>
<polygon points="304.5,419.5 307.16,421.43 306.15,424.57 302.85,424.57 301.84,421.43" fill="#1f78b4"/>
<polygon points="313.4,413.6 316.06,415.53 315.05,418.67 311.75,418.67 310.74,415.53" fill="#1f78b4"/>
<polygon points="314.6,413.6 317.26,415.53 316.25,418.67 312.95,418.67 311.94,415.53" fill="#1f78b4"/>
<polygon points="319,413.8 321.66,415.73 320.65,418.87 317.35,418.87 316.34,415.73" fill="#1f78b4"/>
<polygon points="321.5,414.2 324.16,416.13 323.15,419.27 319.85,419.27 318.84,416.13" fill="#1f78b4"/>
<polygon points="334.6,416.7 337.26,418.63 336.25,421.77 332.95,421.77 331.94,418.63" fill="#1f78b4"/>
<polygon points="336.75,416.1 339.41,418.03 338.4,421.17 335.1,421.17 334.09,418.03" fill="#1f78b4"/>
<polygon points="338.75,414.8 341.41,416.73 340.4,419.87 337.1,419.87 336.09,416.73" fill="#1f78b4"/>
<polygon points="343.4,414.6 346.06,416.53 345.05,419.67 341.75,419.67 340.74,416.53" fill="#1f78b4"/>
<polygon points="352.75,417.3 355.41,419.23 354.4,422.37 351.1,422.37 350.09,419.23" fill="#1f78b4"/>
<polygon points="354,413 356.66,414.93 355.65,418.07 352.35,418.07 351.34,414.93" fill="#1f78b4"/>
<polygon points="412,417.3 414.66,419.23 413.65,422.37 410.35,422.37 409.34,419.23" fill="#1f78b4"/>
<polygon points="416.75,415.8 419.41,417.73 418.4,420.87 415.1,420.87 414.09,417.73" fill="#1f78b4"/>
<polygon points="264.5,391.7 267,395.6 264.5,399.5 262,395.6" fill="#33a02c"/>
<polygon points="293.5,391.7 296,395.6 293.5,399.5 291,395.6" fill="#33a02c"/>
<polygon points="304.5,396.7 307,400.6 304.5,404.5 302,400.6" fill="#33a02c"/>
<polygon points="313.4,394.3 315.9,398.2 313.4,402.1 310.9,398.2" fill="#33a02c"/>
<polygon points="314.6,394.3 317.1,398.2 314.6,402.1 312.1,398.2" fill="#33a02c"/>
<polygon points="319,394.7 321.5,398.6 319,402.5 316.5,398.6" fill="#33a02c"/>
<polygon points="321.5,394.7 324,398.6 321.5,402.5 319,398.6" fill="#33a02c"/>
<polygon points="334.6,394.9 337.1,398.8 334.6,402.7 332.1,398.8" fill="#33a02c"/>
<polygon points="336.75,394.3 339.25,398.2 336.75,402.1 334.25,398.2" fill="#33a02c"/>
<polygon points="338.75,395.2 341.25,399.1 338.75,403 336.25,399.1" fill="#33a02c"/>
<polygon points="343.4,393.9 345.9,397.8 343.4,401.7 340.9,397.8" fill="#33a02c"/>
<polygon points="352.75,396.2 355.25,400.1 352.75,404 350.25,400.1" fill="#33a02c"/>
<polygon points="354,394.9 356.5,398.8 354,402.7 351.5,398.8" fill="#33a02c"/>
<polygon points="412,396.2 414.5,400.1 412,404 409.5,400.1" fill="#33a02c"/>
<polygon points="416.75,394.7 419.25,398.6 416.75,402.5 414.25,398.6" fill="#33a02c"/>
</g>
<path d="M292.1 429.81v-4M292.1 367.31v4M327.5 429.81v-4M327.5 367.31v4M362.9 429.81v-4M362.9 367.31v4M398.3 429.81v-4M398.3 367.31v4M257.5 376.24h4M424.5 376.24h-4M257.5 403.02h4M424.5 403.02h-4M257.5 429.81h4M424.5 429.81h-4" stroke="#000" stroke-width="1.1" fill="none"/>
<path d="M257.5 367.31h2.5M424.5 367.31h-2.5M257.5 385.17h2.5M424.5 385.17h-2.5M257.5 394.1h2.5M424.5 394.1h-2.5M257.5 411.95h2.5M424.5 411.95h-2.5M257.5 420.88h2.5M424.5 420.88h-2.5" stroke="#000" stroke-width="0.9" fill="none"/>
<rect x="257.5" y="367.31" width="167" height="62.5" fill="none" stroke="#000" stroke-width="1.0"/>
<text x="258.1" y="364.11" font-size="14.8" font-family="'Liberation Serif', 'DejaVu Serif', serif" style="stroke-width:0.05px" textLength="5.6" lengthAdjust="spacingAndGlyphs">J</text>
<clipPath id="cp50"><rect x="76.5" y="454.6" width="167" height="62.5"/></clipPath>
<g clip-path="url(#cp50)">
<line x1="83.9" y1="461.5" x2="236" y2="461.5" stroke="#a6cee3" stroke-width="1.3" stroke-linecap="butt"/>
<line x1="83.9" y1="460.8" x2="236" y2="460.8" stroke="#1f78b4" stroke-width="1.3" stroke-linecap="butt"/>
<line x1="83.9" y1="465.6" x2="236" y2="465.8" stroke="#b2df8a" stroke-width="1.3" stroke-linecap="butt"/>
<line x1="83.9" y1="463.7" x2="236" y2="463.9" stroke="#33a02c" stroke-width="1.3" stroke-linecap="butt"/>
<circle cx="83.9" cy="461.5" r="2.5" fill="#a6cee3"/>
<circle cx="97.6" cy="461.5" r="2.5" fill="#a6cee3"/>
<circle cx="118.6" cy="461.5" r="2.5" fill="#a6cee3"/>
<circle cx="122.4" cy="461.5" r="2.5" fill="#a6cee3"/>
<circle cx="134.5" cy="461.5" r="2.5" fill="#a6cee3"/>
<circle cx="136.1" cy="461.5" r="2.5" fill="#a6cee3"/>
<circle cx="142.7" cy="461.5" r="2.5" fill="#a6cee3"/>
<circle cx="148.3" cy="461.5" r="2.5" fill="#a6cee3"/>
<circle cx="154.3" cy="461.5" r="2.5" fill="#a6cee3"/>
<circle cx="157.7" cy="461.5" r="2.5" fill="#a6cee3"/>
<circle cx="164.6" cy="461.5" r="2.5" fill="#a6cee3"/>
<circle cx="191.8" cy="461.5" r="2.5" fill="#a6cee3"/>
<circle cx="196.5" cy="461.5" r="2.5" fill="#a6cee3"/>
<circle cx="204.5" cy="461.5" r="2.5" fill="#a6cee3"/>
<circle cx="236" cy="461.5" r="2.5" fill="#a6cee3"/>
<rect x="81.45" y="463.55" width="4.9" height="4.9" fill="#b2df8a"/>
<rect x="95.15" y="463.55" width="4.9" height="4.9" fill="#b2df8a"/>
<rect x="116.15" y="463.55" width="4.9" height="4.9" fill="#b2df8a"/>
<rect x="119.95" y="463.55" width="4.9" height="4.9" fill="#b2df8a"/>
<rect x="132.05" y="465.55" width="4.9" height="4.9" fill="#b2df8a"/>
<rect x="133.65" y="465.55" width="4.9" height="4.9" fill="#b2df8a"/>
<rect x="140.25" y="466.05" width="4.9" height="4.9" fill="#b2df8a"/>
<rect x="145.85" y="463.55" width="4.9" height="4.9" fill="#b2df8a"/>
<rect x="151.85" y="468.05" width="4.9" height="4.9" fill="#b2df8a"/>
<rect x="155.25" y="464.05" width="4.9" height="4.9" fill="#b2df8a"/>
<rect x="162.15" y="464.35" width="4.9" height="4.9" fill="#b2df8a"/>
<rect x="189.35" y="464.05" width="4.9" height="4.9" fill="#b2df8a"/>
<rect x="194.05" y="464.05" width="4.9" height="4.9" fill="#b2df8a"/>
<rect x="202.05" y="464.05" width="4.9" height="4.9" fill="#b2df8a"/>
<rect x="233.55" y="464.05" width="4.9" height="4.9" fill="#b2df8a"/>
<polygon points="83.9,457 86.56,458.93 85.55,462.07 82.25,462.07 81.24,458.93" fill="#1f78b4"/>
<polygon points="97.6,456.7 100.26,458.63 99.25,461.77 95.95,461.77 94.94,458.63" fill="#1f78b4"/>
<polygon points="118.6,457 121.26,458.93 120.25,462.07 116.95,462.07 115.94,458.93" fill="#1f78b4"/>
<polygon points="122.4,457 125.06,458.93 124.05,462.07 120.75,462.07 119.74,458.93" fill="#1f78b4"/>
<polygon points="134.5,457.3 137.16,459.23 136.15,462.37 132.85,462.37 131.84,459.23" fill="#1f78b4"/>
<polygon points="136.1,457.3 138.76,459.23 137.75,462.37 134.45,462.37 133.44,459.23" fill="#1f78b4"/>
<polygon points="142.7,457.3 145.36,459.23 144.35,462.37 141.05,462.37 140.04,459.23" fill="#1f78b4"/>
<polygon points="148.3,457.3 150.96,459.23 149.95,462.37 146.65,462.37 145.64,459.23" fill="#1f78b4"/>
<polygon points="154.3,457.3 156.96,459.23 155.95,462.37 152.65,462.37 151.64,459.23" fill="#1f78b4"/>
<polygon points="157.7,457.3 160.36,459.23 159.35,462.37 156.05,462.37 155.04,459.23" fill="#1f78b4"/>
<polygon points="164.6,457.3 167.26,459.23 166.25,462.37 162.95,462.37 161.94,459.23" fill="#1f78b4"/>
<polygon points="191.8,457.2 194.46,459.13 193.45,462.27 190.15,462.27 189.14,459.13" fill="#1f78b4"/>
<polygon points="196.5,457.2 199.16,459.13 198.15,462.27 194.85,462.27 193.84,459.13" fill="#1f78b4"/>
<polygon points="204.5,457.2 207.16,459.13 206.15,462.27 202.85,462.27 201.84,459.13" fill="#1f78b4"/>
<polygon points="236,457.2 238.66,459.13 237.65,462.27 234.35,462.27 233.34,459.13" fill="#1f78b4"/>
<polygon points="83.9,460 86.4,463.9 83.9,467.8 81.4,463.9" fill="#33a02c"/>
<polygon points="97.6,460 100.1,463.9 97.6,467.8 95.1,463.9" fill="#33a02c"/>
<polygon points="118.6,460.4 121.1,464.3 118.6,468.2 116.1,464.3" fill="#33a02c"/>
<polygon points="122.4,460.4 124.9,464.3 122.4,468.2 119.9,464.3" fill="#33a02c"/>
<polygon points="134.5,460 137,463.9 134.5,467.8 132,463.9" fill="#33a02c"/>
<polygon points="136.1,460.6 138.6,464.5 136.1,468.4 133.6,464.5" fill="#33a02c"/>
<polygon points="142.7,460.6 145.2,464.5 142.7,468.4 140.2,464.5" fill="#33a02c"/>
<polygon points="148.3,460 150.8,463.9 148.3,467.8 145.8,463.9" fill="#33a02c"/>
<polygon points="154.3,461.3 156.8,465.2 154.3,469.1 151.8,465.2" fill="#33a02c"/>
<polygon points="157.7,460.6 160.2,464.5 157.7,468.4 155.2,464.5" fill="#33a02c"/>
<polygon points="164.6,460.6 167.1,464.5 164.6,468.4 162.1,464.5" fill="#33a02c"/>
<polygon points="191.8,460.1 194.3,464 191.8,467.9 189.3,464" fill="#33a02c"/>
<polygon points="196.5,460.6 199,464.5 196.5,468.4 194,464.5" fill="#33a02c"/>
<polygon points="204.5,460.6 207,464.5 204.5,468.4 202,464.5" fill="#33a02c"/>
<polygon points="236,460.6 238.5,464.5 236,468.4 233.5,464.5" fill="#33a02c"/>
</g>
<path d="M97.5 517.1v-4M97.5 454.6v4M131.93 517.1v-4M131.93 454.6v4M166.35 517.1v-4M166.35 454.6v4M200.77 517.1v-4M200.77 454.6v4M235.2 517.1v-4M235.2 454.6v4M76.5 463.53h4M243.5 463.53h-4M76.5 490.31h4M243.5 490.31h-4M76.5 517.1h4M243.5 517.1h-4" stroke="#000" stroke-width="1.1" fill="none"/>
<path d="M76.5 454.6h2.5M243.5 454.6h-2.5M76.5 472.46h2.5M243.5 472.46h-2.5M76.5 481.39h2.5M243.5 481.39h-2.5M76.5 499.24h2.5M243.5 499.24h-2.5M76.5 508.17h2.5M243.5 508.17h-2.5" stroke="#000" stroke-width="0.9" fill="none"/>
<rect x="76.5" y="454.6" width="167" height="62.5" fill="none" stroke="#000" stroke-width="1.0"/>
<text x="76.9" y="451.4" font-size="14.8" font-family="'Liberation Serif', 'DejaVu Serif', serif" style="stroke-width:0.05px" textLength="9.4" lengthAdjust="spacingAndGlyphs">K</text>
<text x="67.2" y="467.23" font-size="9.8" font-family="'Liberation Serif', 'DejaVu Serif', serif" textLength="4.6" lengthAdjust="spacingAndGlyphs">0</text>
<text x="41.09" y="494.01" font-size="9.8" font-family="'Liberation Serif', 'DejaVu Serif', serif" textLength="30.71" lengthAdjust="spacingAndGlyphs">-30,000</text>
<text x="41.09" y="520.8" font-size="9.8" font-family="'Liberation Serif', 'DejaVu Serif', serif" textLength="30.71" lengthAdjust="spacingAndGlyphs">-60,000</text>
<text x="91.11" y="528.3" font-size="9.8" font-family="'Liberation Serif', 'DejaVu Serif', serif" textLength="12.38" lengthAdjust="spacingAndGlyphs">0.0</text>
<text x="125.54" y="528.3" font-size="9.8" font-family="'Liberation Serif', 'DejaVu Serif', serif" textLength="12.38" lengthAdjust="spacingAndGlyphs">0.1</text>
<text x="159.96" y="528.3" font-size="9.8" font-family="'Liberation Serif', 'DejaVu Serif', serif" textLength="12.38" lengthAdjust="spacingAndGlyphs">0.2</text>
<text x="194.38" y="528.3" font-size="9.8" font-family="'Liberation Serif', 'DejaVu Serif', serif" textLength="12.38" lengthAdjust="spacingAndGlyphs">0.3</text>
<text x="228.81" y="528.3" font-size="9.8" font-family="'Liberation Serif', 'DejaVu Serif', serif" textLength="12.38" lengthAdjust="spacingAndGlyphs">0.4</text>
<clipPath id="cp51"><rect x="257.5" y="454.6" width="167" height="62.5"/></clipPath>
<g clip-path="url(#cp51)">
<line x1="263.8" y1="462" x2="416.75" y2="462" stroke="#a6cee3" stroke-width="3.0" stroke-linecap="butt"/>
<line x1="263.8" y1="460.5" x2="416.75" y2="460.5" stroke="#1f78b4" stroke-width="1.5" stroke-linecap="butt"/>
<line x1="263.8" y1="468.6" x2="416.75" y2="465.6" stroke="#b2df8a" stroke-width="3.2" stroke-linecap="butt"/>
<line x1="263.8" y1="464.3" x2="416.75" y2="464.3" stroke="#33a02c" stroke-width="2.5" stroke-linecap="butt"/>
<circle cx="264.5" cy="462" r="2.5" fill="#a6cee3"/>
<circle cx="293.5" cy="462" r="2.5" fill="#a6cee3"/>
<circle cx="304.5" cy="462" r="2.5" fill="#a6cee3"/>
<circle cx="313.4" cy="462" r="2.5" fill="#a6cee3"/>
<circle cx="314.6" cy="462" r="2.5" fill="#a6cee3"/>
<circle cx="319" cy="462" r="2.5" fill="#a6cee3"/>
<circle cx="321.5" cy="462" r="2.5" fill="#a6cee3"/>
<circle cx="334.6" cy="462" r="2.5" fill="#a6cee3"/>
<circle cx="336.75" cy="462" r="2.5" fill="#a6cee3"/>
<circle cx="338.75" cy="462" r="2.5" fill="#a6cee3"/>
<circle cx="343.4" cy="462" r="2.5" fill="#a6cee3"/>
<circle cx="352.75" cy="462" r="2.5" fill="#a6cee3"/>
<circle cx="354" cy="462" r="2.5" fill="#a6cee3"/>
<circle cx="412" cy="462" r="2.5" fill="#a6cee3"/>
<circle cx="416.75" cy="462" r="2.5" fill="#a6cee3"/>
<rect x="262.05" y="467.05" width="4.9" height="4.9" fill="#b2df8a"/>
<rect x="291.05" y="465.05" width="4.9" height="4.9" fill="#b2df8a"/>
<rect x="302.05" y="465.05" width="4.9" height="4.9" fill="#b2df8a"/>
<rect x="310.95" y="464.55" width="4.9" height="4.9" fill="#b2df8a"/>
<rect x="312.15" y="464.55" width="4.9" height="4.9" fill="#b2df8a"/>
<rect x="316.55" y="464.55" width="4.9" height="4.9" fill="#b2df8a"/>
<rect x="319.05" y="464.55" width="4.9" height="4.9" fill="#b2df8a"/>
<rect x="332.15" y="464.55" width="4.9" height="4.9" fill="#b2df8a"/>
<rect x="334.3" y="464.55" width="4.9" height="4.9" fill="#b2df8a"/>
<rect x="336.3" y="464.55" width="4.9" height="4.9" fill="#b2df8a"/>
<rect x="340.95" y="464.55" width="4.9" height="4.9" fill="#b2df8a"/>
<rect x="350.3" y="464.05" width="4.9" height="4.9" fill="#b2df8a"/>
<rect x="351.55" y="464.05" width="4.9" height="4.9" fill="#b2df8a"/>
<rect x="409.55" y="464.05" width="4.9" height="4.9" fill="#b2df8a"/>
<rect x="414.3" y="464.05" width="4.9" height="4.9" fill="#b2df8a"/>
<polygon points="264.5,457.3 267.16,459.23 266.15,462.37 262.85,462.37 261.84,459.23" fill="#1f78b4"/>
<polygon points="293.5,457.3 296.16,459.23 295.15,462.37 291.85,462.37 290.84,459.23" fill="#1f78b4"/>
<polygon points="304.5,457.3 307.16,459.23 306.15,462.37 302.85,462.37 301.84,459.23" fill="#1f78b4"/>
<polygon points="313.4,457.3 316.06,459.23 315.05,462.37 311.75,462.37 310.74,459.23" fill="#1f78b4"/>
<polygon points="314.6,457.3 317.26,459.23 316.25,462.37 312.95,462.37 311.94,459.23" fill="#1f78b4"/>
<polygon points="319,457.3 321.66,459.23 320.65,462.37 317.35,462.37 316.34,459.23" fill="#1f78b4"/>
<polygon points="321.5,457.3 324.16,459.23 323.15,462.37 319.85,462.37 318.84,459.23" fill="#1f78b4"/>
<polygon points="334.6,457.3 337.26,459.23 336.25,462.37 332.95,462.37 331.94,459.23" fill="#1f78b4"/>
<polygon points="336.75,457.3 339.41,459.23 338.4,462.37 335.1,462.37 334.09,459.23" fill="#1f78b4"/>
<polygon points="338.75,457.3 341.41,459.23 340.4,462.37 337.1,462.37 336.09,459.23" fill="#1f78b4"/>
<polygon points="343.4,457.3 346.06,459.23 345.05,462.37 341.75,462.37 340.74,459.23" fill="#1f78b4"/>
<polygon points="352.75,457.3 355.41,459.23 354.4,462.37 351.1,462.37 350.09,459.23" fill="#1f78b4"/>
<polygon points="354,457.3 356.66,459.23 355.65,462.37 352.35,462.37 351.34,459.23" fill="#1f78b4"/>
<polygon points="412,457.3 414.66,459.23 413.65,462.37 410.35,462.37 409.34,459.23" fill="#1f78b4"/>
<polygon points="416.75,457.3 419.41,459.23 418.4,462.37 415.1,462.37 414.09,459.23" fill="#1f78b4"/>
<polygon points="264.5,460 267,463.9 264.5,467.8 262,463.9" fill="#33a02c"/>
<polygon points="293.5,460.1 296,464 293.5,467.9 291,464" fill="#33a02c"/>
<polygon points="304.5,460.3 307,464.2 304.5,468.1 302,464.2" fill="#33a02c"/>
<polygon points="313.4,460.1 315.9,464 313.4,467.9 310.9,464" fill="#33a02c"/>
<polygon points="314.6,460.1 317.1,464 314.6,467.9 312.1,464" fill="#33a02c"/>
<polygon points="319,460.1 321.5,464 319,467.9 316.5,464" fill="#33a02c"/>
<polygon points="321.5,460.1 324,464 321.5,467.9 319,464" fill="#33a02c"/>
<polygon points="334.6,460.1 337.1,464 334.6,467.9 332.1,464" fill="#33a02c"/>
<polygon points="336.75,460.1 339.25,464 336.75,467.9 334.25,464" fill="#33a02c"/>
<polygon points="338.75,460.1 341.25,464 338.75,467.9 336.25,464" fill="#33a02c"/>
<polygon points="343.4,460.1 345.9,464 343.4,467.9 340.9,464" fill="#33a02c"/>
<polygon points="352.75,460.1 355.25,464 352.75,467.9 350.25,464" fill="#33a02c"/>
<polygon points="354,460.1 356.5,464 354,467.9 351.5,464" fill="#33a02c"/>
<polygon points="412,460.4 414.5,464.3 412,468.2 409.5,464.3" fill="#33a02c"/>
<polygon points="416.75,460.4 419.25,464.3 416.75,468.2 414.25,464.3" fill="#33a02c"/>
</g>
<path d="M292.1 517.1v-4M292.1 454.6v4M327.5 517.1v-4M327.5 454.6v4M362.9 517.1v-4M362.9 454.6v4M398.3 517.1v-4M398.3 454.6v4M257.5 463.53h4M424.5 463.53h-4M257.5 490.31h4M424.5 490.31h-4M257.5 517.1h4M424.5 517.1h-4" stroke="#000" stroke-width="1.1" fill="none"/>
<path d="M257.5 454.6h2.5M424.5 454.6h-2.5M257.5 472.46h2.5M424.5 472.46h-2.5M257.5 481.39h2.5M424.5 481.39h-2.5M257.5 499.24h2.5M424.5 499.24h-2.5M257.5 508.17h2.5M424.5 508.17h-2.5" stroke="#000" stroke-width="0.9" fill="none"/>
<rect x="257.5" y="454.6" width="167" height="62.5" fill="none" stroke="#000" stroke-width="1.0"/>
<text x="258.1" y="451.4" font-size="14.8" font-family="'Liberation Serif', 'DejaVu Serif', serif" style="stroke-width:0.05px" textLength="7.8" lengthAdjust="spacingAndGlyphs">L</text>
<text x="279.32" y="528.3" font-size="9.8" font-family="'Liberation Serif', 'DejaVu Serif', serif" textLength="25.16" lengthAdjust="spacingAndGlyphs">−0.10</text>
<text x="314.72" y="528.3" font-size="9.8" font-family="'Liberation Serif', 'DejaVu Serif', serif" textLength="25.16" lengthAdjust="spacingAndGlyphs">−0.05</text>
<text x="354.01" y="528.3" font-size="9.8" font-family="'Liberation Serif', 'DejaVu Serif', serif" textLength="17.38" lengthAdjust="spacingAndGlyphs">0.00</text>
<text x="389.41" y="528.3" font-size="9.8" font-family="'Liberation Serif', 'DejaVu Serif', serif" textLength="17.38" lengthAdjust="spacingAndGlyphs">0.05</text>
<text transform="translate(15.7 62.1) rotate(-90)" font-size="9.5" font-family="'Liberation Serif', 'DejaVu Serif', serif" textLength="35.5" lengthAdjust="spacingAndGlyphs">HS – HS</text>
<g transform="translate(28.8 78.9) rotate(-90)" font-family="'Liberation Serif', 'DejaVu Serif', serif"><text x="-0.2" y="0" font-size="9.3" textLength="27" lengthAdjust="spacingAndGlyphs">[kJmol</text><text x="27.5" y="-3.2" font-size="7.0" textLength="9.2" lengthAdjust="spacingAndGlyphs">−1</text><text x="37.9" y="0" font-size="9.3" textLength="8.1" lengthAdjust="spacingAndGlyphs">at</text><text x="47.3" y="-3.2" font-size="7.0" textLength="8.6" lengthAdjust="spacingAndGlyphs">−1</text><text x="56.6" y="0" font-size="9.3">]</text></g>
<text transform="translate(15.7 149.5) rotate(-90)" font-size="9.5" font-family="'Liberation Serif', 'DejaVu Serif', serif" textLength="40.3" lengthAdjust="spacingAndGlyphs">HS – ION</text>
<g transform="translate(28.8 166.2) rotate(-90)" font-family="'Liberation Serif', 'DejaVu Serif', serif"><text x="-0.2" y="0" font-size="9.3" textLength="27" lengthAdjust="spacingAndGlyphs">[kJmol</text><text x="27.5" y="-3.2" font-size="7.0" textLength="9.2" lengthAdjust="spacingAndGlyphs">−1</text><text x="37.9" y="0" font-size="9.3" textLength="8.1" lengthAdjust="spacingAndGlyphs">at</text><text x="47.3" y="-3.2" font-size="7.0" textLength="8.6" lengthAdjust="spacingAndGlyphs">−1</text><text x="56.6" y="0" font-size="9.3">]</text></g>
<text transform="translate(15.7 239) rotate(-90)" font-size="9.5" font-family="'Liberation Serif', 'DejaVu Serif', serif" textLength="46.6" lengthAdjust="spacingAndGlyphs">ION – ION</text>
<g transform="translate(28.8 254.2) rotate(-90)" font-family="'Liberation Serif', 'DejaVu Serif', serif"><text x="-0.2" y="0" font-size="9.3" textLength="27" lengthAdjust="spacingAndGlyphs">[kJmol</text><text x="27.5" y="-3.2" font-size="7.0" textLength="9.2" lengthAdjust="spacingAndGlyphs">−1</text><text x="37.9" y="0" font-size="9.3" textLength="8.1" lengthAdjust="spacingAndGlyphs">at</text><text x="47.3" y="-3.2" font-size="7.0" textLength="8.6" lengthAdjust="spacingAndGlyphs">−1</text><text x="56.6" y="0" font-size="9.3">]</text></g>
<text transform="translate(20.9 331) rotate(-90)" font-size="9.5" font-family="'Liberation Serif', 'DejaVu Serif', serif" textLength="56.6" lengthAdjust="spacingAndGlyphs">HS – WATER</text>
<g transform="translate(34.0 347.4) rotate(-90)" font-family="'Liberation Serif', 'DejaVu Serif', serif"><text x="-0.2" y="0" font-size="9.3" textLength="27" lengthAdjust="spacingAndGlyphs">[kJmol</text><text x="27.5" y="-3.2" font-size="7.0" textLength="9.2" lengthAdjust="spacingAndGlyphs">−1</text><text x="37.9" y="0" font-size="9.3" textLength="8.1" lengthAdjust="spacingAndGlyphs">at</text><text x="47.3" y="-3.2" font-size="7.0" textLength="8.6" lengthAdjust="spacingAndGlyphs">−1</text><text x="56.6" y="0" font-size="9.3">]</text></g>
<text transform="translate(20.9 421.3) rotate(-90)" font-size="9.5" font-family="'Liberation Serif', 'DejaVu Serif', serif" textLength="62.2" lengthAdjust="spacingAndGlyphs">ION – WATER</text>
<g transform="translate(34.0 437.6) rotate(-90)" font-family="'Liberation Serif', 'DejaVu Serif', serif"><text x="-0.2" y="0" font-size="9.3" textLength="27" lengthAdjust="spacingAndGlyphs">[kJmol</text><text x="27.5" y="-3.2" font-size="7.0" textLength="9.2" lengthAdjust="spacingAndGlyphs">−1</text><text x="37.9" y="0" font-size="9.3" textLength="8.1" lengthAdjust="spacingAndGlyphs">at</text><text x="47.3" y="-3.2" font-size="7.0" textLength="8.6" lengthAdjust="spacingAndGlyphs">−1</text><text x="56.6" y="0" font-size="9.3">]</text></g>
<text transform="translate(20.9 518.2) rotate(-90)" font-size="9.5" font-family="'Liberation Serif', 'DejaVu Serif', serif" textLength="81.5" lengthAdjust="spacingAndGlyphs">WATER – WATER</text>
<g transform="translate(34.0 535.5) rotate(-90)" font-family="'Liberation Serif', 'DejaVu Serif', serif"><text x="-0.2" y="0" font-size="9.3" textLength="27" lengthAdjust="spacingAndGlyphs">[kJmol</text><text x="27.5" y="-3.2" font-size="7.0" textLength="9.2" lengthAdjust="spacingAndGlyphs">−1</text><text x="37.9" y="0" font-size="9.3" textLength="8.1" lengthAdjust="spacingAndGlyphs">at</text><text x="47.3" y="-3.2" font-size="7.0" textLength="8.6" lengthAdjust="spacingAndGlyphs">−1</text><text x="56.6" y="0" font-size="9.3">]</text></g>
<text x="142.8" y="542.2" font-size="11.2" font-family="'Liberation Serif', 'DejaVu Serif', serif" textLength="14.6" lengthAdjust="spacingAndGlyphs">PC</text>
<text x="157.6" y="544.1" font-size="9.6" font-family="'Liberation Serif', 'DejaVu Serif', serif" textLength="19.6" lengthAdjust="spacingAndGlyphs">arom</text>
<text x="325.6" y="542.2" font-size="11.2" font-family="'Liberation Serif', 'DejaVu Serif', serif" textLength="14.8" lengthAdjust="spacingAndGlyphs">PC</text>
<text x="340.9" y="544.1" font-size="9.6" font-family="'Liberation Serif', 'DejaVu Serif', serif" textLength="15.2" lengthAdjust="spacingAndGlyphs">acid</text>
<line x1="355.5" y1="474.2" x2="371" y2="474.2" stroke="#a6cee3" stroke-width="2"/>
<text x="375.8" y="477.4" font-size="6.8" font-family="'Liberation Serif', 'DejaVu Serif', serif" style="stroke-width:0.02px" textLength="33.3" lengthAdjust="spacingAndGlyphs">pH2.0 Ca</text>
<text x="409.7" y="475.1" font-size="6.0" font-family="'Liberation Serif', 'DejaVu Serif', serif" style="stroke-width:0px" textLength="6.6" lengthAdjust="spacingAndGlyphs">2+</text>
<line x1="355.5" y1="485.3" x2="371" y2="485.3" stroke="#1f78b4" stroke-width="2"/>
<text x="375.8" y="488.5" font-size="6.8" font-family="'Liberation Serif', 'DejaVu Serif', serif" style="stroke-width:0.02px" textLength="33.3" lengthAdjust="spacingAndGlyphs">pH7.0 Ca</text>
<text x="409.7" y="486.2" font-size="6.0" font-family="'Liberation Serif', 'DejaVu Serif', serif" style="stroke-width:0px" textLength="6.6" lengthAdjust="spacingAndGlyphs">2+</text>
<line x1="355.5" y1="496.4" x2="371" y2="496.4" stroke="#b2df8a" stroke-width="2"/>
<text x="375.8" y="499.6" font-size="6.8" font-family="'Liberation Serif', 'DejaVu Serif', serif" style="stroke-width:0.02px" textLength="33.3" lengthAdjust="spacingAndGlyphs">pH2.0 Na</text>
<text x="409.7" y="497.3" font-size="6.0" font-family="'Liberation Serif', 'DejaVu Serif', serif" style="stroke-width:0px" textLength="5.4" lengthAdjust="spacingAndGlyphs">+</text>
<line x1="355.5" y1="507.5" x2="371" y2="507.5" stroke="#33a02c" stroke-width="2"/>
<text x="375.8" y="510.7" font-size="6.8" font-family="'Liberation Serif', 'DejaVu Serif', serif" style="stroke-width:0.02px" textLength="33.3" lengthAdjust="spacingAndGlyphs">pH7.0 Na</text>
<text x="409.7" y="508.4" font-size="6.0" font-family="'Liberation Serif', 'DejaVu Serif', serif" style="stroke-width:0px" textLength="5.4" lengthAdjust="spacingAndGlyphs">+</text>
</svg>
</body></html>
